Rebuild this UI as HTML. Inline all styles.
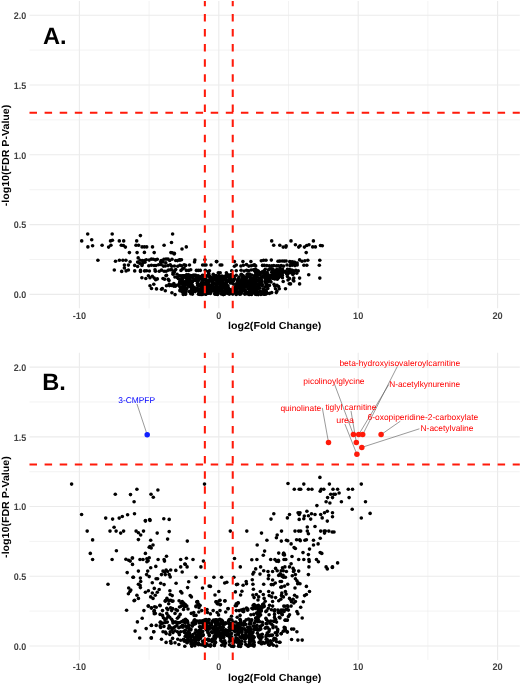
<!DOCTYPE html>
<html><head><meta charset="utf-8"><style>
html,body{margin:0;padding:0;background:#fff;}
svg{display:block;text-rendering:geometricPrecision;}
.tk{font-family:"Liberation Sans",Arial,sans-serif;font-size:9.6px;font-weight:bold;fill:#424242;}
.ti{font-family:"Liberation Sans",Arial,sans-serif;font-size:10.2px;font-weight:bold;fill:#000;}
.lt{font-family:"Liberation Sans",Arial,sans-serif;font-size:23.6px;font-weight:bold;fill:#000;}
.an{font-family:"Liberation Sans",Arial,sans-serif;font-size:8.45px;fill:#ff0000;}
.ab{font-family:"Liberation Sans",Arial,sans-serif;font-size:8.45px;fill:#0000ff;}
</style></head><body>
<svg width="521" height="685" viewBox="0 0 521 685">
<line x1="149.10" y1="1.0" x2="149.10" y2="308.3" stroke="#ebebeb" stroke-width="0.6"/>
<line x1="288.50" y1="1.0" x2="288.50" y2="308.3" stroke="#ebebeb" stroke-width="0.6"/>
<line x1="427.90" y1="1.0" x2="427.90" y2="308.3" stroke="#ebebeb" stroke-width="0.6"/>
<line x1="29.5" y1="259.50" x2="519.8" y2="259.50" stroke="#ebebeb" stroke-width="0.6"/>
<line x1="29.5" y1="189.70" x2="519.8" y2="189.70" stroke="#ebebeb" stroke-width="0.6"/>
<line x1="29.5" y1="119.90" x2="519.8" y2="119.90" stroke="#ebebeb" stroke-width="0.6"/>
<line x1="29.5" y1="50.10" x2="519.8" y2="50.10" stroke="#ebebeb" stroke-width="0.6"/>
<line x1="79.40" y1="1.0" x2="79.40" y2="308.3" stroke="#ebebeb" stroke-width="1.1"/>
<line x1="218.80" y1="1.0" x2="218.80" y2="308.3" stroke="#ebebeb" stroke-width="1.1"/>
<line x1="358.20" y1="1.0" x2="358.20" y2="308.3" stroke="#ebebeb" stroke-width="1.1"/>
<line x1="497.60" y1="1.0" x2="497.60" y2="308.3" stroke="#ebebeb" stroke-width="1.1"/>
<line x1="29.5" y1="294.40" x2="519.8" y2="294.40" stroke="#ebebeb" stroke-width="1.1"/>
<line x1="29.5" y1="224.60" x2="519.8" y2="224.60" stroke="#ebebeb" stroke-width="1.1"/>
<line x1="29.5" y1="154.80" x2="519.8" y2="154.80" stroke="#ebebeb" stroke-width="1.1"/>
<line x1="29.5" y1="85.00" x2="519.8" y2="85.00" stroke="#ebebeb" stroke-width="1.1"/>
<line x1="29.5" y1="15.20" x2="519.8" y2="15.20" stroke="#ebebeb" stroke-width="1.1"/>
<text x="26.2" y="298.10" text-anchor="end" textLength="12.5" lengthAdjust="spacingAndGlyphs" class="tk">0.0</text>
<text x="26.2" y="228.30" text-anchor="end" textLength="12.5" lengthAdjust="spacingAndGlyphs" class="tk">0.5</text>
<text x="26.2" y="158.50" text-anchor="end" textLength="12.5" lengthAdjust="spacingAndGlyphs" class="tk">1.0</text>
<text x="26.2" y="88.70" text-anchor="end" textLength="12.5" lengthAdjust="spacingAndGlyphs" class="tk">1.5</text>
<text x="26.2" y="18.90" text-anchor="end" textLength="12.5" lengthAdjust="spacingAndGlyphs" class="tk">2.0</text>
<text x="79.40" y="318.70" text-anchor="middle" textLength="13.2" lengthAdjust="spacingAndGlyphs" class="tk">-10</text>
<text x="218.80" y="318.70" text-anchor="middle" textLength="5.1" lengthAdjust="spacingAndGlyphs" class="tk">0</text>
<text x="358.20" y="318.70" text-anchor="middle" textLength="10.25" lengthAdjust="spacingAndGlyphs" class="tk">10</text>
<text x="497.60" y="318.70" text-anchor="middle" textLength="10.25" lengthAdjust="spacingAndGlyphs" class="tk">20</text>
<text x="228.0" y="329.1" textLength="93.4" lengthAdjust="spacingAndGlyphs" class="ti">log2(Fold Change)</text>
<text transform="translate(9.45 206.30) rotate(-90)" textLength="101.6" lengthAdjust="spacingAndGlyphs" class="ti">-log10(FDR P-Value)</text>

<g fill="#000"><circle cx="87.7" cy="234.0" r="1.8"/><circle cx="81.7" cy="240.9" r="1.8"/><circle cx="91.7" cy="239.7" r="1.8"/><circle cx="87.9" cy="246.9" r="1.8"/><circle cx="92.6" cy="245.7" r="1.8"/><circle cx="102.1" cy="245.2" r="1.8"/><circle cx="112.2" cy="234.0" r="1.8"/><circle cx="110.5" cy="240.9" r="1.8"/><circle cx="112.4" cy="240.2" r="1.8"/><circle cx="110.9" cy="245.2" r="1.8"/><circle cx="108.6" cy="247.1" r="1.8"/><circle cx="119.3" cy="240.9" r="1.8"/><circle cx="123.7" cy="240.9" r="1.8"/><circle cx="121.3" cy="245.2" r="1.8"/><circle cx="123.4" cy="245.5" r="1.8"/><circle cx="125.4" cy="247.1" r="1.8"/><circle cx="129.4" cy="252.6" r="1.8"/><circle cx="140.4" cy="235.6" r="1.8"/><circle cx="136.7" cy="240.9" r="1.8"/><circle cx="136.0" cy="245.2" r="1.8"/><circle cx="138.6" cy="245.2" r="1.8"/><circle cx="142.1" cy="246.9" r="1.8"/><circle cx="144.4" cy="246.9" r="1.8"/><circle cx="146.7" cy="246.9" r="1.8"/><circle cx="152.5" cy="246.9" r="1.8"/><circle cx="137.1" cy="252.6" r="1.8"/><circle cx="144.4" cy="252.4" r="1.8"/><circle cx="154.2" cy="252.6" r="1.8"/><circle cx="172.6" cy="234.0" r="1.8"/><circle cx="171.5" cy="242.5" r="1.8"/><circle cx="164.1" cy="245.2" r="1.8"/><circle cx="170.9" cy="252.6" r="1.8"/><circle cx="174.3" cy="253.2" r="1.8"/><circle cx="182.0" cy="249.0" r="1.8"/><circle cx="186.3" cy="246.9" r="1.8"/><circle cx="271.7" cy="240.9" r="1.8"/><circle cx="273.7" cy="245.2" r="1.8"/><circle cx="279.8" cy="245.2" r="1.8"/><circle cx="283.2" cy="247.1" r="1.8"/><circle cx="286.1" cy="245.7" r="1.8"/><circle cx="285.9" cy="247.1" r="1.8"/><circle cx="291.0" cy="240.9" r="1.8"/><circle cx="295.4" cy="244.8" r="1.8"/><circle cx="298.7" cy="247.1" r="1.8"/><circle cx="300.1" cy="245.7" r="1.8"/><circle cx="304.4" cy="247.1" r="1.8"/><circle cx="306.7" cy="245.5" r="1.8"/><circle cx="309.0" cy="244.8" r="1.8"/><circle cx="313.4" cy="240.9" r="1.8"/><circle cx="312.7" cy="246.9" r="1.8"/><circle cx="315.4" cy="246.9" r="1.8"/><circle cx="320.5" cy="245.5" r="1.8"/><circle cx="322.3" cy="245.7" r="1.8"/><circle cx="306.2" cy="252.6" r="1.8"/><circle cx="172.2" cy="252.8" r="1.8"/><circle cx="174.2" cy="253.9" r="1.8"/><circle cx="97.9" cy="260.2" r="1.8"/><circle cx="115.5" cy="261.3" r="1.8"/><circle cx="119.4" cy="260.2" r="1.8"/><circle cx="122.9" cy="260.2" r="1.8"/><circle cx="125.9" cy="260.2" r="1.8"/><circle cx="130.1" cy="261.7" r="1.8"/><circle cx="124.4" cy="265.1" r="1.8"/><circle cx="128.4" cy="265.1" r="1.8"/><circle cx="124.4" cy="267.9" r="1.8"/><circle cx="114.3" cy="270.0" r="1.8"/><circle cx="121.7" cy="271.4" r="1.8"/><circle cx="126.1" cy="270.9" r="1.8"/><circle cx="128.4" cy="270.0" r="1.8"/><circle cx="134.7" cy="270.9" r="1.8"/><circle cx="138.2" cy="257.9" r="1.8"/><circle cx="134.7" cy="265.4" r="1.8"/><circle cx="137.6" cy="262.1" r="1.8"/><circle cx="137.6" cy="266.5" r="1.8"/><circle cx="140.5" cy="271.4" r="1.8"/><circle cx="140.1" cy="260.2" r="1.8"/><circle cx="142.4" cy="260.6" r="1.8"/><circle cx="144.6" cy="260.6" r="1.8"/><circle cx="146.3" cy="259.7" r="1.8"/><circle cx="149.2" cy="260.1" r="1.8"/><circle cx="151.4" cy="259.1" r="1.8"/><circle cx="153.3" cy="259.3" r="1.8"/><circle cx="155.5" cy="259.9" r="1.8"/><circle cx="157.3" cy="259.3" r="1.8"/><circle cx="161.3" cy="260.5" r="1.8"/><circle cx="163.9" cy="259.2" r="1.8"/><circle cx="166.0" cy="259.1" r="1.8"/><circle cx="168.0" cy="259.1" r="1.8"/><circle cx="169.7" cy="260.5" r="1.8"/><circle cx="172.0" cy="259.3" r="1.8"/><circle cx="175.7" cy="260.5" r="1.8"/><circle cx="177.5" cy="260.6" r="1.8"/><circle cx="180.0" cy="260.1" r="1.8"/><circle cx="139.8" cy="263.5" r="1.8"/><circle cx="142.5" cy="263.5" r="1.8"/><circle cx="144.9" cy="262.3" r="1.8"/><circle cx="160.6" cy="262.1" r="1.8"/><circle cx="163.1" cy="261.9" r="1.8"/><circle cx="165.8" cy="262.9" r="1.8"/><circle cx="142.0" cy="265.5" r="1.8"/><circle cx="148.8" cy="265.8" r="1.8"/><circle cx="151.4" cy="265.2" r="1.8"/><circle cx="154.1" cy="265.5" r="1.8"/><circle cx="156.0" cy="265.5" r="1.8"/><circle cx="158.6" cy="264.7" r="1.8"/><circle cx="161.1" cy="264.6" r="1.8"/><circle cx="163.4" cy="266.1" r="1.8"/><circle cx="165.3" cy="266.0" r="1.8"/><circle cx="168.1" cy="265.6" r="1.8"/><circle cx="170.3" cy="264.7" r="1.8"/><circle cx="171.7" cy="266.3" r="1.8"/><circle cx="174.4" cy="266.0" r="1.8"/><circle cx="177.7" cy="266.3" r="1.8"/><circle cx="179.9" cy="265.2" r="1.8"/><circle cx="140.5" cy="270.4" r="1.8"/><circle cx="144.6" cy="270.9" r="1.8"/><circle cx="146.6" cy="270.8" r="1.8"/><circle cx="149.4" cy="271.0" r="1.8"/><circle cx="155.0" cy="269.7" r="1.8"/><circle cx="155.4" cy="271.2" r="1.8"/><circle cx="159.2" cy="271.2" r="1.8"/><circle cx="161.5" cy="270.1" r="1.8"/><circle cx="164.1" cy="271.2" r="1.8"/><circle cx="166.1" cy="271.2" r="1.8"/><circle cx="168.5" cy="270.1" r="1.8"/><circle cx="170.6" cy="269.8" r="1.8"/><circle cx="171.9" cy="269.8" r="1.8"/><circle cx="174.3" cy="271.3" r="1.8"/><circle cx="175.7" cy="269.6" r="1.8"/><circle cx="141.9" cy="277.8" r="1.8"/><circle cx="145.8" cy="278.5" r="1.8"/><circle cx="148.4" cy="275.8" r="1.8"/><circle cx="150.0" cy="277.8" r="1.8"/><circle cx="152.3" cy="276.2" r="1.8"/><circle cx="154.2" cy="278.1" r="1.8"/><circle cx="155.7" cy="279.7" r="1.8"/><circle cx="157.3" cy="278.9" r="1.8"/><circle cx="163.0" cy="278.5" r="1.8"/><circle cx="164.6" cy="279.3" r="1.8"/><circle cx="168.3" cy="279.4" r="1.8"/><circle cx="174.9" cy="277.0" r="1.8"/><circle cx="169.0" cy="280.6" r="1.8"/><circle cx="177.3" cy="277.4" r="1.8"/><circle cx="173.1" cy="274.2" r="1.8"/><circle cx="166.0" cy="275.8" r="1.8"/><circle cx="174.2" cy="272.3" r="1.8"/><circle cx="177.1" cy="274.2" r="1.8"/><circle cx="180.0" cy="280.0" r="1.8"/><circle cx="178.3" cy="278.6" r="1.8"/><circle cx="166.5" cy="275.3" r="1.8"/><circle cx="173.0" cy="272.8" r="1.8"/><circle cx="179.3" cy="275.7" r="1.8"/><circle cx="150.0" cy="285.8" r="1.8"/><circle cx="153.8" cy="284.3" r="1.8"/><circle cx="151.5" cy="288.5" r="1.8"/><circle cx="156.5" cy="288.9" r="1.8"/><circle cx="161.5" cy="289.3" r="1.8"/><circle cx="162.3" cy="288.5" r="1.8"/><circle cx="165.3" cy="290.8" r="1.8"/><circle cx="166.5" cy="285.8" r="1.8"/><circle cx="169.2" cy="284.3" r="1.8"/><circle cx="171.5" cy="285.4" r="1.8"/><circle cx="173.8" cy="283.5" r="1.8"/><circle cx="175.3" cy="286.2" r="1.8"/><circle cx="171.9" cy="292.7" r="1.8"/><circle cx="169.4" cy="285.6" r="1.8"/><circle cx="171.3" cy="285.0" r="1.8"/><circle cx="173.7" cy="286.1" r="1.8"/><circle cx="176.0" cy="285.4" r="1.8"/><circle cx="179.8" cy="282.0" r="1.8"/><circle cx="175.1" cy="294.6" r="1.8"/><circle cx="178.3" cy="285.0" r="1.8"/><circle cx="179.4" cy="283.4" r="1.8"/><circle cx="179.5" cy="259.7" r="1.8"/><circle cx="181.5" cy="259.7" r="1.8"/><circle cx="194.9" cy="260.1" r="1.8"/><circle cx="194.5" cy="262.0" r="1.8"/><circle cx="204.9" cy="259.7" r="1.8"/><circle cx="216.4" cy="261.6" r="1.8"/><circle cx="181.5" cy="265.8" r="1.8"/><circle cx="184.1" cy="264.7" r="1.8"/><circle cx="185.7" cy="265.4" r="1.8"/><circle cx="189.5" cy="265.0" r="1.8"/><circle cx="202.6" cy="265.0" r="1.8"/><circle cx="204.5" cy="265.0" r="1.8"/><circle cx="206.0" cy="265.0" r="1.8"/><circle cx="211.0" cy="265.0" r="1.8"/><circle cx="181.0" cy="270.4" r="1.8"/><circle cx="182.6" cy="268.9" r="1.8"/><circle cx="184.1" cy="268.1" r="1.8"/><circle cx="186.4" cy="270.4" r="1.8"/><circle cx="188.7" cy="270.4" r="1.8"/><circle cx="190.7" cy="269.7" r="1.8"/><circle cx="196.4" cy="270.4" r="1.8"/><circle cx="198.3" cy="270.4" r="1.8"/><circle cx="200.3" cy="270.4" r="1.8"/><circle cx="205.3" cy="270.4" r="1.8"/><circle cx="208.0" cy="271.6" r="1.8"/><circle cx="209.5" cy="270.8" r="1.8"/><circle cx="208.7" cy="273.5" r="1.8"/><circle cx="213.3" cy="274.3" r="1.8"/><circle cx="215.1" cy="293.5" r="1.8"/><circle cx="213.8" cy="275.7" r="1.8"/><circle cx="202.1" cy="282.7" r="1.8"/><circle cx="199.7" cy="276.7" r="1.8"/><circle cx="186.5" cy="283.2" r="1.8"/><circle cx="187.6" cy="283.4" r="1.8"/><circle cx="180.0" cy="275.8" r="1.8"/><circle cx="206.7" cy="282.7" r="1.8"/><circle cx="199.0" cy="289.1" r="1.8"/><circle cx="193.0" cy="275.2" r="1.8"/><circle cx="209.5" cy="286.1" r="1.8"/><circle cx="204.7" cy="286.8" r="1.8"/><circle cx="216.9" cy="281.5" r="1.8"/><circle cx="208.6" cy="281.6" r="1.8"/><circle cx="201.3" cy="287.6" r="1.8"/><circle cx="191.3" cy="275.8" r="1.8"/><circle cx="197.5" cy="288.8" r="1.8"/><circle cx="202.0" cy="283.2" r="1.8"/><circle cx="204.1" cy="277.7" r="1.8"/><circle cx="186.0" cy="280.7" r="1.8"/><circle cx="210.8" cy="278.0" r="1.8"/><circle cx="183.5" cy="276.0" r="1.8"/><circle cx="180.5" cy="279.7" r="1.8"/><circle cx="201.3" cy="290.9" r="1.8"/><circle cx="191.9" cy="281.6" r="1.8"/><circle cx="190.3" cy="280.3" r="1.8"/><circle cx="209.3" cy="285.3" r="1.8"/><circle cx="189.1" cy="276.2" r="1.8"/><circle cx="209.6" cy="288.6" r="1.8"/><circle cx="211.3" cy="278.9" r="1.8"/><circle cx="200.3" cy="292.9" r="1.8"/><circle cx="202.1" cy="293.5" r="1.8"/><circle cx="185.5" cy="294.1" r="1.8"/><circle cx="181.2" cy="282.6" r="1.8"/><circle cx="179.9" cy="290.7" r="1.8"/><circle cx="205.8" cy="294.1" r="1.8"/><circle cx="210.4" cy="293.5" r="1.8"/><circle cx="200.0" cy="294.4" r="1.8"/><circle cx="208.2" cy="281.1" r="1.8"/><circle cx="217.0" cy="281.8" r="1.8"/><circle cx="186.5" cy="275.6" r="1.8"/><circle cx="197.2" cy="278.1" r="1.8"/><circle cx="215.4" cy="293.6" r="1.8"/><circle cx="187.4" cy="276.1" r="1.8"/><circle cx="199.6" cy="277.5" r="1.8"/><circle cx="200.2" cy="290.7" r="1.8"/><circle cx="188.9" cy="282.7" r="1.8"/><circle cx="214.1" cy="283.2" r="1.8"/><circle cx="192.4" cy="292.4" r="1.8"/><circle cx="210.7" cy="292.4" r="1.8"/><circle cx="205.8" cy="282.5" r="1.8"/><circle cx="206.0" cy="291.1" r="1.8"/><circle cx="203.9" cy="278.9" r="1.8"/><circle cx="190.5" cy="282.4" r="1.8"/><circle cx="209.1" cy="285.5" r="1.8"/><circle cx="200.4" cy="291.0" r="1.8"/><circle cx="183.2" cy="287.0" r="1.8"/><circle cx="192.0" cy="285.5" r="1.8"/><circle cx="211.6" cy="279.1" r="1.8"/><circle cx="216.1" cy="275.6" r="1.8"/><circle cx="200.9" cy="285.2" r="1.8"/><circle cx="188.2" cy="285.6" r="1.8"/><circle cx="197.4" cy="283.3" r="1.8"/><circle cx="193.7" cy="290.2" r="1.8"/><circle cx="184.5" cy="291.9" r="1.8"/><circle cx="186.9" cy="288.0" r="1.8"/><circle cx="185.8" cy="283.3" r="1.8"/><circle cx="195.5" cy="275.7" r="1.8"/><circle cx="206.3" cy="283.9" r="1.8"/><circle cx="205.9" cy="285.1" r="1.8"/><circle cx="200.7" cy="284.8" r="1.8"/><circle cx="190.6" cy="292.5" r="1.8"/><circle cx="182.4" cy="292.1" r="1.8"/><circle cx="212.7" cy="284.3" r="1.8"/><circle cx="209.3" cy="287.9" r="1.8"/><circle cx="202.6" cy="280.0" r="1.8"/><circle cx="191.5" cy="281.2" r="1.8"/><circle cx="190.8" cy="293.8" r="1.8"/><circle cx="192.3" cy="282.0" r="1.8"/><circle cx="195.4" cy="290.8" r="1.8"/><circle cx="197.6" cy="285.4" r="1.8"/><circle cx="189.0" cy="279.7" r="1.8"/><circle cx="182.5" cy="278.5" r="1.8"/><circle cx="189.3" cy="291.6" r="1.8"/><circle cx="198.6" cy="276.3" r="1.8"/><circle cx="197.0" cy="276.5" r="1.8"/><circle cx="201.1" cy="283.1" r="1.8"/><circle cx="212.5" cy="279.3" r="1.8"/><circle cx="212.2" cy="279.1" r="1.8"/><circle cx="217.3" cy="287.1" r="1.8"/><circle cx="180.7" cy="290.6" r="1.8"/><circle cx="189.8" cy="281.5" r="1.8"/><circle cx="184.7" cy="291.3" r="1.8"/><circle cx="182.5" cy="289.2" r="1.8"/><circle cx="194.4" cy="288.0" r="1.8"/><circle cx="190.4" cy="275.6" r="1.8"/><circle cx="214.7" cy="287.5" r="1.8"/><circle cx="185.6" cy="294.1" r="1.8"/><circle cx="214.6" cy="277.8" r="1.8"/><circle cx="179.7" cy="286.6" r="1.8"/><circle cx="184.4" cy="289.1" r="1.8"/><circle cx="197.3" cy="288.6" r="1.8"/><circle cx="201.2" cy="289.9" r="1.8"/><circle cx="211.0" cy="286.4" r="1.8"/><circle cx="202.1" cy="280.7" r="1.8"/><circle cx="184.2" cy="275.9" r="1.8"/><circle cx="212.4" cy="278.2" r="1.8"/><circle cx="195.6" cy="280.5" r="1.8"/><circle cx="203.2" cy="285.0" r="1.8"/><circle cx="212.5" cy="283.0" r="1.8"/><circle cx="193.1" cy="287.4" r="1.8"/><circle cx="208.0" cy="293.1" r="1.8"/><circle cx="191.2" cy="292.3" r="1.8"/><circle cx="217.3" cy="294.2" r="1.8"/><circle cx="184.0" cy="281.8" r="1.8"/><circle cx="209.2" cy="291.1" r="1.8"/><circle cx="180.5" cy="282.1" r="1.8"/><circle cx="207.2" cy="289.6" r="1.8"/><circle cx="199.9" cy="278.3" r="1.8"/><circle cx="194.9" cy="275.2" r="1.8"/><circle cx="191.3" cy="282.8" r="1.8"/><circle cx="211.1" cy="286.1" r="1.8"/><circle cx="195.2" cy="279.1" r="1.8"/><circle cx="191.3" cy="287.8" r="1.8"/><circle cx="196.4" cy="277.6" r="1.8"/><circle cx="211.0" cy="285.9" r="1.8"/><circle cx="216.7" cy="285.0" r="1.8"/><circle cx="203.3" cy="282.8" r="1.8"/><circle cx="202.7" cy="292.9" r="1.8"/><circle cx="217.3" cy="287.6" r="1.8"/><circle cx="195.8" cy="275.3" r="1.8"/><circle cx="211.8" cy="282.1" r="1.8"/><circle cx="193.9" cy="275.2" r="1.8"/><circle cx="180.3" cy="282.0" r="1.8"/><circle cx="217.0" cy="289.3" r="1.8"/><circle cx="206.6" cy="287.8" r="1.8"/><circle cx="189.6" cy="277.5" r="1.8"/><circle cx="202.5" cy="275.3" r="1.8"/><circle cx="201.9" cy="284.6" r="1.8"/><circle cx="200.2" cy="276.5" r="1.8"/><circle cx="181.6" cy="283.7" r="1.8"/><circle cx="184.7" cy="287.2" r="1.8"/><circle cx="191.1" cy="286.8" r="1.8"/><circle cx="208.3" cy="286.5" r="1.8"/><circle cx="199.7" cy="278.1" r="1.8"/><circle cx="192.5" cy="294.1" r="1.8"/><circle cx="189.5" cy="279.9" r="1.8"/><circle cx="198.2" cy="285.2" r="1.8"/><circle cx="209.8" cy="280.1" r="1.8"/><circle cx="209.8" cy="285.7" r="1.8"/><circle cx="214.1" cy="277.2" r="1.8"/><circle cx="205.9" cy="293.5" r="1.8"/><circle cx="205.0" cy="276.3" r="1.8"/><circle cx="214.9" cy="294.0" r="1.8"/><circle cx="183.3" cy="291.0" r="1.8"/><circle cx="182.1" cy="275.7" r="1.8"/><circle cx="210.0" cy="288.8" r="1.8"/><circle cx="216.3" cy="287.0" r="1.8"/><circle cx="199.0" cy="279.6" r="1.8"/><circle cx="201.3" cy="294.4" r="1.8"/><circle cx="204.2" cy="292.0" r="1.8"/><circle cx="186.7" cy="289.1" r="1.8"/><circle cx="207.5" cy="275.5" r="1.8"/><circle cx="211.0" cy="277.6" r="1.8"/><circle cx="187.5" cy="275.3" r="1.8"/><circle cx="204.8" cy="276.9" r="1.8"/><circle cx="210.6" cy="289.6" r="1.8"/><circle cx="201.2" cy="285.8" r="1.8"/><circle cx="210.1" cy="287.1" r="1.8"/><circle cx="184.4" cy="290.4" r="1.8"/><circle cx="192.8" cy="286.0" r="1.8"/><circle cx="199.0" cy="292.6" r="1.8"/><circle cx="195.2" cy="291.6" r="1.8"/><circle cx="182.2" cy="280.7" r="1.8"/><circle cx="205.2" cy="286.6" r="1.8"/><circle cx="211.5" cy="278.3" r="1.8"/><circle cx="210.4" cy="290.4" r="1.8"/><circle cx="184.6" cy="276.9" r="1.8"/><circle cx="201.7" cy="294.1" r="1.8"/><circle cx="202.9" cy="282.8" r="1.8"/><circle cx="198.8" cy="290.7" r="1.8"/><circle cx="199.4" cy="285.1" r="1.8"/><circle cx="202.1" cy="293.2" r="1.8"/><circle cx="210.2" cy="291.3" r="1.8"/><circle cx="189.4" cy="286.4" r="1.8"/><circle cx="211.1" cy="288.8" r="1.8"/><circle cx="216.1" cy="292.9" r="1.8"/><circle cx="184.0" cy="284.5" r="1.8"/><circle cx="193.0" cy="278.2" r="1.8"/><circle cx="198.5" cy="294.3" r="1.8"/><circle cx="209.0" cy="276.0" r="1.8"/><circle cx="188.7" cy="281.6" r="1.8"/><circle cx="213.5" cy="283.5" r="1.8"/><circle cx="185.2" cy="285.3" r="1.8"/><circle cx="188.6" cy="274.8" r="1.8"/><circle cx="202.1" cy="294.4" r="1.8"/><circle cx="209.3" cy="289.2" r="1.8"/><circle cx="185.0" cy="285.6" r="1.8"/><circle cx="203.8" cy="289.6" r="1.8"/><circle cx="215.2" cy="279.5" r="1.8"/><circle cx="207.8" cy="283.6" r="1.8"/><circle cx="209.4" cy="281.0" r="1.8"/><circle cx="182.6" cy="282.8" r="1.8"/><circle cx="197.7" cy="290.3" r="1.8"/><circle cx="194.7" cy="287.7" r="1.8"/><circle cx="193.7" cy="289.1" r="1.8"/><circle cx="185.8" cy="292.1" r="1.8"/><circle cx="212.5" cy="290.0" r="1.8"/><circle cx="206.0" cy="276.2" r="1.8"/><circle cx="207.6" cy="289.9" r="1.8"/><circle cx="203.4" cy="293.9" r="1.8"/><circle cx="215.9" cy="287.1" r="1.8"/><circle cx="215.1" cy="277.0" r="1.8"/><circle cx="190.6" cy="284.9" r="1.8"/><circle cx="199.4" cy="293.6" r="1.8"/><circle cx="203.8" cy="286.8" r="1.8"/><circle cx="203.2" cy="293.5" r="1.8"/><circle cx="194.6" cy="289.2" r="1.8"/><circle cx="202.4" cy="282.3" r="1.8"/><circle cx="192.2" cy="277.2" r="1.8"/><circle cx="190.7" cy="275.7" r="1.8"/><circle cx="197.9" cy="281.2" r="1.8"/><circle cx="215.1" cy="290.1" r="1.8"/><circle cx="204.9" cy="291.4" r="1.8"/><circle cx="189.7" cy="276.4" r="1.8"/><circle cx="202.8" cy="278.7" r="1.8"/><circle cx="217.4" cy="282.8" r="1.8"/><circle cx="213.6" cy="279.1" r="1.8"/><circle cx="182.7" cy="286.9" r="1.8"/><circle cx="206.0" cy="279.3" r="1.8"/><circle cx="215.1" cy="294.0" r="1.8"/><circle cx="205.8" cy="294.2" r="1.8"/><circle cx="217.3" cy="277.1" r="1.8"/><circle cx="207.5" cy="289.4" r="1.8"/><circle cx="207.5" cy="281.0" r="1.8"/><circle cx="200.2" cy="286.1" r="1.8"/><circle cx="193.6" cy="280.5" r="1.8"/><circle cx="209.9" cy="276.4" r="1.8"/><circle cx="181.4" cy="276.4" r="1.8"/><circle cx="183.5" cy="283.0" r="1.8"/><circle cx="212.8" cy="281.3" r="1.8"/><circle cx="182.9" cy="287.8" r="1.8"/><circle cx="192.0" cy="285.8" r="1.8"/><circle cx="208.2" cy="283.4" r="1.8"/><circle cx="207.6" cy="286.8" r="1.8"/><circle cx="212.2" cy="289.7" r="1.8"/><circle cx="214.1" cy="289.4" r="1.8"/><circle cx="190.0" cy="284.4" r="1.8"/><circle cx="209.1" cy="290.2" r="1.8"/><circle cx="207.5" cy="291.4" r="1.8"/><circle cx="211.2" cy="285.1" r="1.8"/><circle cx="197.6" cy="289.0" r="1.8"/><circle cx="214.6" cy="291.5" r="1.8"/><circle cx="196.1" cy="278.7" r="1.8"/><circle cx="213.5" cy="287.5" r="1.8"/><circle cx="186.5" cy="274.8" r="1.8"/><circle cx="213.2" cy="285.9" r="1.8"/><circle cx="183.3" cy="294.4" r="1.8"/><circle cx="201.9" cy="289.6" r="1.8"/><circle cx="210.5" cy="279.3" r="1.8"/><circle cx="199.4" cy="277.5" r="1.8"/><circle cx="202.9" cy="283.0" r="1.8"/><circle cx="209.8" cy="276.4" r="1.8"/><circle cx="187.0" cy="282.0" r="1.8"/><circle cx="216.5" cy="291.8" r="1.8"/><circle cx="186.0" cy="291.1" r="1.8"/><circle cx="187.8" cy="278.9" r="1.8"/><circle cx="203.9" cy="280.1" r="1.8"/><circle cx="186.8" cy="275.8" r="1.8"/><circle cx="185.9" cy="278.0" r="1.8"/><circle cx="200.1" cy="278.4" r="1.8"/><circle cx="193.5" cy="289.2" r="1.8"/><circle cx="180.0" cy="282.5" r="1.8"/><circle cx="191.7" cy="284.0" r="1.8"/><circle cx="203.5" cy="275.6" r="1.8"/><circle cx="212.8" cy="279.6" r="1.8"/><circle cx="209.1" cy="276.7" r="1.8"/><circle cx="182.7" cy="278.0" r="1.8"/><circle cx="182.3" cy="279.1" r="1.8"/><circle cx="184.4" cy="275.8" r="1.8"/><circle cx="212.2" cy="284.9" r="1.8"/><circle cx="198.4" cy="284.5" r="1.8"/><circle cx="180.8" cy="287.7" r="1.8"/><circle cx="203.4" cy="291.5" r="1.8"/><circle cx="191.2" cy="286.0" r="1.8"/><circle cx="180.3" cy="289.5" r="1.8"/><circle cx="216.3" cy="285.3" r="1.8"/><circle cx="205.0" cy="291.2" r="1.8"/><circle cx="211.9" cy="290.9" r="1.8"/><circle cx="198.0" cy="275.8" r="1.8"/><circle cx="210.0" cy="291.4" r="1.8"/><circle cx="206.3" cy="280.5" r="1.8"/><circle cx="217.0" cy="286.8" r="1.8"/><circle cx="191.2" cy="290.2" r="1.8"/><circle cx="187.7" cy="279.0" r="1.8"/><circle cx="212.9" cy="282.2" r="1.8"/><circle cx="201.3" cy="288.2" r="1.8"/><circle cx="214.2" cy="278.5" r="1.8"/><circle cx="182.6" cy="284.6" r="1.8"/><circle cx="187.7" cy="282.7" r="1.8"/><circle cx="183.3" cy="275.9" r="1.8"/><circle cx="189.4" cy="282.0" r="1.8"/><circle cx="182.7" cy="290.6" r="1.8"/><circle cx="210.5" cy="277.6" r="1.8"/><circle cx="208.1" cy="293.2" r="1.8"/><circle cx="189.1" cy="277.4" r="1.8"/><circle cx="192.3" cy="291.7" r="1.8"/><circle cx="209.4" cy="277.2" r="1.8"/><circle cx="214.2" cy="289.2" r="1.8"/><circle cx="216.3" cy="294.0" r="1.8"/><circle cx="185.2" cy="289.0" r="1.8"/><circle cx="216.8" cy="261.6" r="1.8"/><circle cx="220.2" cy="265.0" r="1.8"/><circle cx="221.8" cy="265.0" r="1.8"/><circle cx="234.4" cy="261.6" r="1.8"/><circle cx="234.4" cy="266.2" r="1.8"/><circle cx="236.3" cy="265.0" r="1.8"/><circle cx="242.9" cy="261.6" r="1.8"/><circle cx="250.9" cy="261.6" r="1.8"/><circle cx="240.9" cy="266.0" r="1.8"/><circle cx="243.4" cy="265.3" r="1.8"/><circle cx="246.5" cy="264.6" r="1.8"/><circle cx="248.8" cy="266.1" r="1.8"/><circle cx="251.2" cy="265.8" r="1.8"/><circle cx="253.2" cy="265.2" r="1.8"/><circle cx="255.7" cy="265.9" r="1.8"/><circle cx="218.3" cy="272.7" r="1.8"/><circle cx="220.2" cy="272.7" r="1.8"/><circle cx="226.4" cy="272.7" r="1.8"/><circle cx="231.7" cy="270.8" r="1.8"/><circle cx="236.3" cy="270.8" r="1.8"/><circle cx="241.1" cy="270.3" r="1.8"/><circle cx="244.1" cy="271.0" r="1.8"/><circle cx="246.6" cy="270.3" r="1.8"/><circle cx="248.6" cy="270.8" r="1.8"/><circle cx="251.1" cy="270.0" r="1.8"/><circle cx="253.5" cy="269.8" r="1.8"/><circle cx="255.9" cy="271.3" r="1.8"/><circle cx="244.5" cy="291.2" r="1.8"/><circle cx="223.3" cy="294.6" r="1.8"/><circle cx="223.8" cy="287.7" r="1.8"/><circle cx="219.7" cy="289.5" r="1.8"/><circle cx="222.1" cy="288.4" r="1.8"/><circle cx="245.0" cy="289.7" r="1.8"/><circle cx="233.7" cy="291.8" r="1.8"/><circle cx="255.5" cy="275.9" r="1.8"/><circle cx="236.7" cy="293.7" r="1.8"/><circle cx="245.6" cy="282.9" r="1.8"/><circle cx="228.2" cy="293.6" r="1.8"/><circle cx="219.4" cy="289.5" r="1.8"/><circle cx="249.7" cy="276.8" r="1.8"/><circle cx="229.1" cy="279.9" r="1.8"/><circle cx="237.7" cy="281.2" r="1.8"/><circle cx="251.7" cy="293.0" r="1.8"/><circle cx="228.6" cy="292.4" r="1.8"/><circle cx="218.8" cy="275.5" r="1.8"/><circle cx="242.6" cy="290.4" r="1.8"/><circle cx="248.8" cy="294.4" r="1.8"/><circle cx="250.4" cy="279.1" r="1.8"/><circle cx="245.7" cy="293.0" r="1.8"/><circle cx="219.7" cy="283.9" r="1.8"/><circle cx="222.2" cy="276.5" r="1.8"/><circle cx="235.2" cy="287.6" r="1.8"/><circle cx="255.0" cy="276.3" r="1.8"/><circle cx="236.2" cy="294.5" r="1.8"/><circle cx="246.6" cy="284.7" r="1.8"/><circle cx="225.7" cy="286.8" r="1.8"/><circle cx="226.4" cy="287.1" r="1.8"/><circle cx="241.9" cy="281.8" r="1.8"/><circle cx="247.8" cy="282.0" r="1.8"/><circle cx="234.8" cy="291.0" r="1.8"/><circle cx="226.0" cy="277.4" r="1.8"/><circle cx="239.0" cy="282.7" r="1.8"/><circle cx="251.0" cy="278.8" r="1.8"/><circle cx="230.9" cy="274.7" r="1.8"/><circle cx="234.0" cy="280.1" r="1.8"/><circle cx="233.9" cy="289.6" r="1.8"/><circle cx="217.5" cy="294.4" r="1.8"/><circle cx="244.5" cy="290.6" r="1.8"/><circle cx="237.6" cy="285.7" r="1.8"/><circle cx="232.4" cy="281.9" r="1.8"/><circle cx="224.8" cy="279.9" r="1.8"/><circle cx="227.8" cy="280.6" r="1.8"/><circle cx="252.3" cy="290.3" r="1.8"/><circle cx="226.5" cy="285.0" r="1.8"/><circle cx="243.7" cy="282.3" r="1.8"/><circle cx="241.3" cy="292.6" r="1.8"/><circle cx="226.7" cy="281.6" r="1.8"/><circle cx="246.4" cy="280.2" r="1.8"/><circle cx="244.9" cy="281.9" r="1.8"/><circle cx="216.8" cy="283.3" r="1.8"/><circle cx="218.7" cy="290.1" r="1.8"/><circle cx="249.8" cy="284.7" r="1.8"/><circle cx="252.0" cy="278.0" r="1.8"/><circle cx="233.8" cy="277.2" r="1.8"/><circle cx="217.9" cy="290.9" r="1.8"/><circle cx="218.1" cy="293.2" r="1.8"/><circle cx="238.3" cy="288.3" r="1.8"/><circle cx="218.0" cy="292.6" r="1.8"/><circle cx="247.8" cy="275.7" r="1.8"/><circle cx="223.3" cy="276.5" r="1.8"/><circle cx="236.2" cy="275.2" r="1.8"/><circle cx="247.9" cy="284.0" r="1.8"/><circle cx="244.2" cy="278.9" r="1.8"/><circle cx="242.2" cy="283.1" r="1.8"/><circle cx="241.9" cy="282.2" r="1.8"/><circle cx="255.6" cy="291.4" r="1.8"/><circle cx="249.3" cy="280.7" r="1.8"/><circle cx="223.6" cy="276.7" r="1.8"/><circle cx="221.3" cy="293.9" r="1.8"/><circle cx="227.3" cy="291.9" r="1.8"/><circle cx="225.3" cy="286.6" r="1.8"/><circle cx="226.0" cy="280.0" r="1.8"/><circle cx="245.9" cy="286.3" r="1.8"/><circle cx="253.8" cy="278.5" r="1.8"/><circle cx="226.8" cy="274.8" r="1.8"/><circle cx="224.6" cy="294.2" r="1.8"/><circle cx="238.6" cy="283.5" r="1.8"/><circle cx="229.6" cy="289.5" r="1.8"/><circle cx="243.6" cy="276.8" r="1.8"/><circle cx="217.9" cy="277.2" r="1.8"/><circle cx="248.7" cy="289.0" r="1.8"/><circle cx="225.1" cy="278.4" r="1.8"/><circle cx="228.3" cy="287.8" r="1.8"/><circle cx="245.9" cy="278.5" r="1.8"/><circle cx="229.2" cy="278.5" r="1.8"/><circle cx="253.8" cy="285.1" r="1.8"/><circle cx="253.6" cy="278.6" r="1.8"/><circle cx="241.3" cy="285.5" r="1.8"/><circle cx="253.3" cy="281.2" r="1.8"/><circle cx="225.1" cy="290.8" r="1.8"/><circle cx="254.1" cy="284.2" r="1.8"/><circle cx="229.3" cy="275.3" r="1.8"/><circle cx="233.8" cy="293.0" r="1.8"/><circle cx="230.3" cy="283.0" r="1.8"/><circle cx="238.6" cy="278.5" r="1.8"/><circle cx="220.3" cy="284.5" r="1.8"/><circle cx="254.7" cy="291.9" r="1.8"/><circle cx="228.1" cy="290.0" r="1.8"/><circle cx="249.3" cy="285.8" r="1.8"/><circle cx="230.4" cy="277.6" r="1.8"/><circle cx="244.1" cy="288.0" r="1.8"/><circle cx="224.5" cy="276.5" r="1.8"/><circle cx="220.6" cy="291.0" r="1.8"/><circle cx="251.4" cy="284.4" r="1.8"/><circle cx="240.4" cy="288.4" r="1.8"/><circle cx="222.3" cy="284.5" r="1.8"/><circle cx="233.9" cy="291.8" r="1.8"/><circle cx="222.6" cy="291.4" r="1.8"/><circle cx="221.7" cy="286.4" r="1.8"/><circle cx="251.7" cy="275.1" r="1.8"/><circle cx="236.4" cy="283.7" r="1.8"/><circle cx="254.4" cy="283.8" r="1.8"/><circle cx="252.4" cy="288.9" r="1.8"/><circle cx="249.7" cy="280.9" r="1.8"/><circle cx="219.8" cy="287.0" r="1.8"/><circle cx="220.5" cy="286.7" r="1.8"/><circle cx="223.2" cy="286.3" r="1.8"/><circle cx="246.7" cy="293.8" r="1.8"/><circle cx="224.0" cy="277.2" r="1.8"/><circle cx="232.8" cy="294.1" r="1.8"/><circle cx="226.2" cy="283.5" r="1.8"/><circle cx="231.3" cy="274.8" r="1.8"/><circle cx="237.6" cy="280.0" r="1.8"/><circle cx="234.8" cy="289.1" r="1.8"/><circle cx="242.7" cy="278.7" r="1.8"/><circle cx="241.9" cy="284.8" r="1.8"/><circle cx="227.2" cy="287.7" r="1.8"/><circle cx="238.3" cy="284.1" r="1.8"/><circle cx="237.2" cy="286.5" r="1.8"/><circle cx="245.4" cy="291.1" r="1.8"/><circle cx="247.1" cy="292.6" r="1.8"/><circle cx="239.0" cy="277.1" r="1.8"/><circle cx="230.8" cy="291.7" r="1.8"/><circle cx="246.9" cy="286.6" r="1.8"/><circle cx="221.1" cy="276.9" r="1.8"/><circle cx="242.2" cy="282.4" r="1.8"/><circle cx="223.5" cy="294.0" r="1.8"/><circle cx="225.3" cy="293.0" r="1.8"/><circle cx="240.9" cy="293.7" r="1.8"/><circle cx="247.0" cy="277.7" r="1.8"/><circle cx="225.1" cy="291.7" r="1.8"/><circle cx="233.4" cy="284.1" r="1.8"/><circle cx="245.9" cy="286.2" r="1.8"/><circle cx="244.8" cy="284.5" r="1.8"/><circle cx="227.0" cy="288.7" r="1.8"/><circle cx="221.1" cy="288.8" r="1.8"/><circle cx="247.8" cy="276.5" r="1.8"/><circle cx="216.1" cy="292.8" r="1.8"/><circle cx="223.5" cy="284.7" r="1.8"/><circle cx="227.6" cy="276.4" r="1.8"/><circle cx="226.3" cy="275.0" r="1.8"/><circle cx="249.9" cy="289.7" r="1.8"/><circle cx="247.3" cy="276.6" r="1.8"/><circle cx="228.9" cy="275.6" r="1.8"/><circle cx="250.0" cy="294.1" r="1.8"/><circle cx="253.9" cy="291.3" r="1.8"/><circle cx="240.5" cy="284.0" r="1.8"/><circle cx="240.8" cy="293.8" r="1.8"/><circle cx="255.2" cy="282.3" r="1.8"/><circle cx="236.9" cy="292.1" r="1.8"/><circle cx="227.3" cy="289.0" r="1.8"/><circle cx="240.0" cy="282.7" r="1.8"/><circle cx="231.6" cy="276.8" r="1.8"/><circle cx="221.9" cy="279.8" r="1.8"/><circle cx="255.5" cy="290.8" r="1.8"/><circle cx="216.3" cy="289.5" r="1.8"/><circle cx="221.7" cy="285.7" r="1.8"/><circle cx="252.8" cy="292.6" r="1.8"/><circle cx="251.5" cy="294.4" r="1.8"/><circle cx="241.3" cy="274.2" r="1.8"/><circle cx="226.2" cy="287.6" r="1.8"/><circle cx="239.8" cy="292.7" r="1.8"/><circle cx="222.8" cy="292.2" r="1.8"/><circle cx="239.1" cy="286.0" r="1.8"/><circle cx="220.8" cy="281.0" r="1.8"/><circle cx="236.6" cy="289.4" r="1.8"/><circle cx="243.2" cy="287.0" r="1.8"/><circle cx="244.4" cy="280.9" r="1.8"/><circle cx="229.4" cy="294.1" r="1.8"/><circle cx="242.8" cy="285.3" r="1.8"/><circle cx="254.6" cy="291.8" r="1.8"/><circle cx="244.8" cy="294.1" r="1.8"/><circle cx="231.4" cy="293.0" r="1.8"/><circle cx="239.1" cy="282.5" r="1.8"/><circle cx="251.5" cy="294.0" r="1.8"/><circle cx="231.1" cy="293.5" r="1.8"/><circle cx="221.2" cy="283.2" r="1.8"/><circle cx="255.7" cy="286.8" r="1.8"/><circle cx="222.3" cy="286.9" r="1.8"/><circle cx="217.0" cy="288.7" r="1.8"/><circle cx="239.5" cy="287.1" r="1.8"/><circle cx="243.0" cy="275.5" r="1.8"/><circle cx="251.3" cy="289.6" r="1.8"/><circle cx="251.7" cy="278.4" r="1.8"/><circle cx="225.1" cy="288.7" r="1.8"/><circle cx="252.9" cy="285.5" r="1.8"/><circle cx="225.7" cy="282.8" r="1.8"/><circle cx="225.6" cy="283.7" r="1.8"/><circle cx="254.4" cy="287.8" r="1.8"/><circle cx="224.1" cy="292.8" r="1.8"/><circle cx="251.1" cy="282.0" r="1.8"/><circle cx="216.0" cy="287.6" r="1.8"/><circle cx="229.0" cy="276.2" r="1.8"/><circle cx="252.4" cy="281.9" r="1.8"/><circle cx="222.6" cy="279.5" r="1.8"/><circle cx="255.8" cy="280.9" r="1.8"/><circle cx="234.9" cy="278.8" r="1.8"/><circle cx="219.3" cy="276.3" r="1.8"/><circle cx="218.4" cy="283.1" r="1.8"/><circle cx="233.2" cy="288.3" r="1.8"/><circle cx="249.3" cy="291.9" r="1.8"/><circle cx="221.6" cy="285.3" r="1.8"/><circle cx="221.7" cy="279.8" r="1.8"/><circle cx="231.5" cy="281.8" r="1.8"/><circle cx="249.7" cy="282.5" r="1.8"/><circle cx="222.4" cy="286.2" r="1.8"/><circle cx="226.4" cy="292.6" r="1.8"/><circle cx="220.3" cy="276.8" r="1.8"/><circle cx="218.6" cy="279.8" r="1.8"/><circle cx="247.3" cy="275.2" r="1.8"/><circle cx="240.3" cy="292.4" r="1.8"/><circle cx="225.3" cy="289.2" r="1.8"/><circle cx="244.9" cy="293.8" r="1.8"/><circle cx="250.1" cy="286.8" r="1.8"/><circle cx="233.0" cy="281.3" r="1.8"/><circle cx="241.8" cy="279.5" r="1.8"/><circle cx="222.3" cy="283.6" r="1.8"/><circle cx="221.8" cy="286.9" r="1.8"/><circle cx="254.1" cy="281.4" r="1.8"/><circle cx="217.3" cy="277.0" r="1.8"/><circle cx="228.5" cy="292.2" r="1.8"/><circle cx="253.8" cy="286.3" r="1.8"/><circle cx="231.9" cy="275.5" r="1.8"/><circle cx="249.5" cy="274.0" r="1.8"/><circle cx="226.4" cy="289.0" r="1.8"/><circle cx="243.7" cy="277.4" r="1.8"/><circle cx="255.6" cy="287.3" r="1.8"/><circle cx="243.5" cy="278.4" r="1.8"/><circle cx="247.9" cy="274.1" r="1.8"/><circle cx="247.5" cy="286.0" r="1.8"/><circle cx="238.7" cy="281.3" r="1.8"/><circle cx="247.3" cy="274.2" r="1.8"/><circle cx="241.1" cy="274.9" r="1.8"/><circle cx="216.3" cy="291.5" r="1.8"/><circle cx="228.6" cy="281.2" r="1.8"/><circle cx="249.2" cy="281.3" r="1.8"/><circle cx="249.6" cy="294.4" r="1.8"/><circle cx="220.3" cy="278.5" r="1.8"/><circle cx="216.4" cy="279.1" r="1.8"/><circle cx="239.7" cy="294.2" r="1.8"/><circle cx="247.8" cy="288.7" r="1.8"/><circle cx="221.9" cy="293.1" r="1.8"/><circle cx="233.3" cy="289.9" r="1.8"/><circle cx="223.8" cy="294.1" r="1.8"/><circle cx="231.5" cy="279.7" r="1.8"/><circle cx="250.5" cy="287.6" r="1.8"/><circle cx="232.0" cy="283.0" r="1.8"/><circle cx="245.5" cy="281.5" r="1.8"/><circle cx="237.1" cy="284.0" r="1.8"/><circle cx="232.0" cy="280.9" r="1.8"/><circle cx="226.3" cy="290.2" r="1.8"/><circle cx="242.3" cy="277.2" r="1.8"/><circle cx="222.6" cy="281.8" r="1.8"/><circle cx="239.8" cy="284.2" r="1.8"/><circle cx="241.9" cy="288.3" r="1.8"/><circle cx="227.8" cy="274.9" r="1.8"/><circle cx="242.3" cy="284.9" r="1.8"/><circle cx="229.4" cy="292.2" r="1.8"/><circle cx="221.8" cy="276.0" r="1.8"/><circle cx="241.1" cy="281.6" r="1.8"/><circle cx="242.1" cy="275.4" r="1.8"/><circle cx="235.4" cy="286.5" r="1.8"/><circle cx="233.4" cy="276.6" r="1.8"/><circle cx="219.2" cy="280.1" r="1.8"/><circle cx="227.7" cy="292.1" r="1.8"/><circle cx="218.7" cy="289.3" r="1.8"/><circle cx="254.2" cy="284.5" r="1.8"/><circle cx="222.7" cy="286.4" r="1.8"/><circle cx="253.1" cy="282.2" r="1.8"/><circle cx="245.1" cy="277.9" r="1.8"/><circle cx="226.4" cy="280.9" r="1.8"/><circle cx="240.4" cy="293.3" r="1.8"/><circle cx="226.2" cy="287.1" r="1.8"/><circle cx="243.3" cy="284.8" r="1.8"/><circle cx="244.9" cy="283.7" r="1.8"/><circle cx="222.3" cy="293.7" r="1.8"/><circle cx="222.8" cy="279.0" r="1.8"/><circle cx="244.7" cy="279.8" r="1.8"/><circle cx="222.9" cy="288.0" r="1.8"/><circle cx="242.3" cy="287.4" r="1.8"/><circle cx="226.7" cy="292.6" r="1.8"/><circle cx="241.7" cy="283.4" r="1.8"/><circle cx="252.6" cy="278.5" r="1.8"/><circle cx="228.0" cy="285.7" r="1.8"/><circle cx="239.1" cy="285.2" r="1.8"/><circle cx="219.8" cy="289.4" r="1.8"/><circle cx="255.1" cy="281.1" r="1.8"/><circle cx="249.2" cy="276.2" r="1.8"/><circle cx="220.4" cy="286.0" r="1.8"/><circle cx="253.4" cy="285.4" r="1.8"/><circle cx="225.3" cy="276.6" r="1.8"/><circle cx="252.6" cy="288.4" r="1.8"/><circle cx="255.6" cy="279.1" r="1.8"/><circle cx="246.4" cy="277.1" r="1.8"/><circle cx="221.0" cy="281.9" r="1.8"/><circle cx="230.0" cy="289.6" r="1.8"/><circle cx="233.1" cy="280.2" r="1.8"/><circle cx="251.4" cy="291.7" r="1.8"/><circle cx="233.9" cy="289.9" r="1.8"/><circle cx="219.2" cy="280.1" r="1.8"/><circle cx="251.1" cy="284.0" r="1.8"/><circle cx="220.5" cy="278.1" r="1.8"/><circle cx="251.6" cy="281.7" r="1.8"/><circle cx="255.7" cy="294.1" r="1.8"/><circle cx="239.3" cy="291.6" r="1.8"/><circle cx="230.2" cy="290.2" r="1.8"/><circle cx="218.3" cy="283.8" r="1.8"/><circle cx="216.7" cy="279.2" r="1.8"/><circle cx="253.4" cy="286.8" r="1.8"/><circle cx="217.9" cy="291.2" r="1.8"/><circle cx="251.0" cy="293.6" r="1.8"/><circle cx="233.7" cy="276.5" r="1.8"/><circle cx="246.8" cy="285.9" r="1.8"/><circle cx="217.9" cy="283.9" r="1.8"/><circle cx="240.6" cy="289.8" r="1.8"/><circle cx="240.9" cy="280.1" r="1.8"/><circle cx="220.7" cy="282.1" r="1.8"/><circle cx="231.6" cy="292.8" r="1.8"/><circle cx="236.1" cy="290.9" r="1.8"/><circle cx="243.1" cy="288.3" r="1.8"/><circle cx="249.7" cy="291.6" r="1.8"/><circle cx="243.7" cy="283.9" r="1.8"/><circle cx="261.3" cy="260.8" r="1.8"/><circle cx="263.6" cy="260.3" r="1.8"/><circle cx="266.0" cy="260.2" r="1.8"/><circle cx="271.3" cy="260.1" r="1.8"/><circle cx="278.0" cy="261.3" r="1.8"/><circle cx="279.8" cy="261.1" r="1.8"/><circle cx="282.2" cy="261.0" r="1.8"/><circle cx="284.2" cy="261.1" r="1.8"/><circle cx="286.1" cy="261.0" r="1.8"/><circle cx="289.8" cy="261.6" r="1.8"/><circle cx="292.2" cy="261.9" r="1.8"/><circle cx="293.8" cy="262.4" r="1.8"/><circle cx="254.5" cy="264.7" r="1.8"/><circle cx="262.5" cy="265.4" r="1.8"/><circle cx="264.3" cy="265.4" r="1.8"/><circle cx="266.8" cy="265.6" r="1.8"/><circle cx="269.3" cy="265.9" r="1.8"/><circle cx="271.8" cy="265.8" r="1.8"/><circle cx="273.8" cy="265.6" r="1.8"/><circle cx="276.5" cy="265.9" r="1.8"/><circle cx="278.5" cy="265.9" r="1.8"/><circle cx="281.2" cy="265.6" r="1.8"/><circle cx="283.6" cy="266.1" r="1.8"/><circle cx="287.0" cy="265.0" r="1.8"/><circle cx="290.8" cy="264.6" r="1.8"/><circle cx="292.6" cy="265.1" r="1.8"/><circle cx="295.3" cy="264.5" r="1.8"/><circle cx="297.2" cy="264.9" r="1.8"/><circle cx="287.7" cy="273.8" r="1.8"/><circle cx="255.7" cy="294.0" r="1.8"/><circle cx="264.2" cy="276.4" r="1.8"/><circle cx="259.0" cy="286.7" r="1.8"/><circle cx="287.0" cy="272.9" r="1.8"/><circle cx="258.2" cy="294.6" r="1.8"/><circle cx="279.4" cy="270.7" r="1.8"/><circle cx="277.3" cy="279.3" r="1.8"/><circle cx="261.6" cy="272.4" r="1.8"/><circle cx="272.4" cy="269.9" r="1.8"/><circle cx="259.1" cy="291.9" r="1.8"/><circle cx="255.6" cy="272.7" r="1.8"/><circle cx="286.7" cy="274.0" r="1.8"/><circle cx="256.3" cy="290.3" r="1.8"/><circle cx="265.3" cy="269.3" r="1.8"/><circle cx="273.1" cy="274.0" r="1.8"/><circle cx="278.7" cy="277.6" r="1.8"/><circle cx="256.6" cy="271.6" r="1.8"/><circle cx="257.7" cy="286.7" r="1.8"/><circle cx="262.8" cy="272.0" r="1.8"/><circle cx="260.7" cy="283.6" r="1.8"/><circle cx="272.1" cy="276.3" r="1.8"/><circle cx="258.4" cy="288.6" r="1.8"/><circle cx="278.4" cy="274.3" r="1.8"/><circle cx="254.6" cy="288.4" r="1.8"/><circle cx="264.4" cy="271.0" r="1.8"/><circle cx="255.3" cy="282.2" r="1.8"/><circle cx="260.5" cy="291.6" r="1.8"/><circle cx="264.8" cy="293.7" r="1.8"/><circle cx="278.5" cy="270.1" r="1.8"/><circle cx="282.0" cy="272.2" r="1.8"/><circle cx="268.7" cy="275.5" r="1.8"/><circle cx="257.7" cy="284.2" r="1.8"/><circle cx="281.8" cy="273.9" r="1.8"/><circle cx="289.7" cy="272.7" r="1.8"/><circle cx="257.0" cy="292.9" r="1.8"/><circle cx="267.1" cy="272.5" r="1.8"/><circle cx="265.7" cy="280.6" r="1.8"/><circle cx="265.6" cy="290.0" r="1.8"/><circle cx="265.4" cy="275.5" r="1.8"/><circle cx="254.1" cy="275.8" r="1.8"/><circle cx="256.3" cy="281.3" r="1.8"/><circle cx="265.9" cy="276.6" r="1.8"/><circle cx="268.4" cy="269.9" r="1.8"/><circle cx="256.1" cy="270.6" r="1.8"/><circle cx="259.2" cy="283.9" r="1.8"/><circle cx="274.8" cy="271.5" r="1.8"/><circle cx="266.6" cy="292.6" r="1.8"/><circle cx="255.8" cy="291.2" r="1.8"/><circle cx="293.4" cy="270.9" r="1.8"/><circle cx="255.3" cy="287.3" r="1.8"/><circle cx="256.3" cy="294.5" r="1.8"/><circle cx="257.0" cy="270.3" r="1.8"/><circle cx="261.1" cy="278.8" r="1.8"/><circle cx="278.9" cy="275.3" r="1.8"/><circle cx="269.5" cy="278.0" r="1.8"/><circle cx="266.3" cy="293.6" r="1.8"/><circle cx="261.0" cy="281.7" r="1.8"/><circle cx="257.9" cy="280.2" r="1.8"/><circle cx="262.8" cy="273.0" r="1.8"/><circle cx="285.5" cy="271.6" r="1.8"/><circle cx="261.8" cy="281.1" r="1.8"/><circle cx="256.6" cy="291.8" r="1.8"/><circle cx="272.5" cy="271.8" r="1.8"/><circle cx="263.5" cy="292.8" r="1.8"/><circle cx="261.1" cy="279.6" r="1.8"/><circle cx="255.6" cy="281.3" r="1.8"/><circle cx="267.6" cy="279.6" r="1.8"/><circle cx="271.8" cy="269.5" r="1.8"/><circle cx="273.0" cy="269.3" r="1.8"/><circle cx="254.9" cy="271.1" r="1.8"/><circle cx="275.8" cy="275.1" r="1.8"/><circle cx="285.7" cy="272.0" r="1.8"/><circle cx="280.2" cy="268.6" r="1.8"/><circle cx="264.3" cy="276.6" r="1.8"/><circle cx="255.3" cy="291.8" r="1.8"/><circle cx="273.7" cy="274.8" r="1.8"/><circle cx="276.4" cy="275.3" r="1.8"/><circle cx="256.7" cy="273.9" r="1.8"/><circle cx="256.1" cy="288.8" r="1.8"/><circle cx="258.1" cy="281.2" r="1.8"/><circle cx="277.7" cy="270.6" r="1.8"/><circle cx="259.3" cy="284.2" r="1.8"/><circle cx="269.0" cy="279.6" r="1.8"/><circle cx="284.4" cy="272.0" r="1.8"/><circle cx="264.5" cy="292.2" r="1.8"/><circle cx="271.6" cy="275.6" r="1.8"/><circle cx="256.4" cy="270.7" r="1.8"/><circle cx="255.4" cy="276.0" r="1.8"/><circle cx="265.0" cy="287.0" r="1.8"/><circle cx="279.3" cy="271.2" r="1.8"/><circle cx="255.0" cy="292.1" r="1.8"/><circle cx="263.2" cy="289.1" r="1.8"/><circle cx="282.4" cy="269.0" r="1.8"/><circle cx="272.7" cy="278.1" r="1.8"/><circle cx="263.1" cy="275.9" r="1.8"/><circle cx="262.9" cy="293.7" r="1.8"/><circle cx="277.7" cy="277.4" r="1.8"/><circle cx="271.0" cy="275.3" r="1.8"/><circle cx="267.1" cy="275.8" r="1.8"/><circle cx="265.1" cy="278.5" r="1.8"/><circle cx="255.0" cy="293.8" r="1.8"/><circle cx="287.5" cy="269.3" r="1.8"/><circle cx="281.9" cy="270.5" r="1.8"/><circle cx="258.3" cy="271.1" r="1.8"/><circle cx="261.3" cy="292.9" r="1.8"/><circle cx="261.9" cy="272.3" r="1.8"/><circle cx="292.8" cy="274.4" r="1.8"/><circle cx="262.3" cy="286.0" r="1.8"/><circle cx="282.7" cy="270.1" r="1.8"/><circle cx="265.4" cy="275.8" r="1.8"/><circle cx="263.9" cy="271.0" r="1.8"/><circle cx="263.7" cy="291.3" r="1.8"/><circle cx="278.8" cy="272.0" r="1.8"/><circle cx="256.3" cy="276.7" r="1.8"/><circle cx="291.3" cy="270.9" r="1.8"/><circle cx="261.6" cy="277.1" r="1.8"/><circle cx="293.4" cy="273.4" r="1.8"/><circle cx="265.1" cy="282.0" r="1.8"/><circle cx="283.2" cy="272.1" r="1.8"/><circle cx="266.8" cy="283.7" r="1.8"/><circle cx="293.6" cy="272.8" r="1.8"/><circle cx="276.1" cy="273.4" r="1.8"/><circle cx="267.0" cy="278.8" r="1.8"/><circle cx="261.7" cy="281.3" r="1.8"/><circle cx="260.3" cy="274.8" r="1.8"/><circle cx="255.3" cy="270.4" r="1.8"/><circle cx="261.4" cy="282.8" r="1.8"/><circle cx="255.6" cy="287.5" r="1.8"/><circle cx="289.6" cy="269.6" r="1.8"/><circle cx="266.5" cy="276.1" r="1.8"/><circle cx="255.7" cy="284.3" r="1.8"/><circle cx="276.5" cy="272.8" r="1.8"/><circle cx="266.1" cy="284.8" r="1.8"/><circle cx="256.9" cy="288.6" r="1.8"/><circle cx="263.6" cy="289.5" r="1.8"/><circle cx="259.5" cy="285.2" r="1.8"/><circle cx="273.8" cy="274.7" r="1.8"/><circle cx="255.4" cy="269.4" r="1.8"/><circle cx="276.8" cy="269.7" r="1.8"/><circle cx="263.3" cy="273.0" r="1.8"/><circle cx="288.9" cy="269.8" r="1.8"/><circle cx="274.3" cy="271.1" r="1.8"/><circle cx="281.0" cy="275.9" r="1.8"/><circle cx="254.2" cy="270.2" r="1.8"/><circle cx="266.2" cy="276.9" r="1.8"/><circle cx="255.1" cy="285.0" r="1.8"/><circle cx="255.0" cy="282.7" r="1.8"/><circle cx="266.1" cy="291.4" r="1.8"/><circle cx="257.9" cy="275.0" r="1.8"/><circle cx="277.1" cy="269.9" r="1.8"/><circle cx="255.3" cy="278.9" r="1.8"/><circle cx="291.8" cy="270.1" r="1.8"/><circle cx="254.9" cy="280.9" r="1.8"/><circle cx="256.8" cy="277.3" r="1.8"/><circle cx="268.2" cy="279.0" r="1.8"/><circle cx="275.1" cy="277.3" r="1.8"/><circle cx="279.2" cy="273.6" r="1.8"/><circle cx="274.7" cy="279.0" r="1.8"/><circle cx="259.3" cy="272.6" r="1.8"/><circle cx="272.1" cy="277.9" r="1.8"/><circle cx="265.4" cy="278.3" r="1.8"/><circle cx="254.2" cy="282.3" r="1.8"/><circle cx="264.9" cy="294.3" r="1.8"/><circle cx="265.9" cy="291.3" r="1.8"/><circle cx="271.7" cy="272.3" r="1.8"/><circle cx="275.7" cy="271.8" r="1.8"/><circle cx="289.1" cy="272.1" r="1.8"/><circle cx="291.9" cy="271.5" r="1.8"/><circle cx="270.1" cy="268.7" r="1.8"/><circle cx="282.3" cy="271.7" r="1.8"/><circle cx="265.6" cy="282.6" r="1.8"/><circle cx="264.8" cy="291.9" r="1.8"/><circle cx="271.8" cy="268.9" r="1.8"/><circle cx="275.7" cy="272.6" r="1.8"/><circle cx="290.6" cy="272.4" r="1.8"/><circle cx="278.0" cy="273.7" r="1.8"/><circle cx="287.3" cy="273.0" r="1.8"/><circle cx="269.5" cy="276.8" r="1.8"/><circle cx="265.0" cy="291.1" r="1.8"/><circle cx="267.7" cy="278.2" r="1.8"/><circle cx="265.7" cy="279.7" r="1.8"/><circle cx="260.2" cy="291.6" r="1.8"/><circle cx="267.8" cy="274.0" r="1.8"/><circle cx="262.2" cy="284.3" r="1.8"/><circle cx="256.3" cy="289.8" r="1.8"/><circle cx="260.9" cy="294.4" r="1.8"/><circle cx="276.6" cy="270.1" r="1.8"/><circle cx="259.8" cy="288.3" r="1.8"/><circle cx="268.2" cy="276.4" r="1.8"/><circle cx="287.8" cy="273.2" r="1.8"/><circle cx="267.3" cy="277.3" r="1.8"/><circle cx="260.0" cy="280.8" r="1.8"/><circle cx="266.9" cy="286.1" r="1.8"/><circle cx="273.2" cy="278.2" r="1.8"/><circle cx="258.8" cy="277.9" r="1.8"/><circle cx="280.1" cy="275.9" r="1.8"/><circle cx="278.2" cy="273.3" r="1.8"/><circle cx="264.8" cy="273.6" r="1.8"/><circle cx="258.7" cy="284.2" r="1.8"/><circle cx="282.4" cy="275.4" r="1.8"/><circle cx="282.4" cy="277.7" r="1.8"/><circle cx="283.2" cy="281.5" r="1.8"/><circle cx="287.5" cy="276.5" r="1.8"/><circle cx="289.5" cy="278.5" r="1.8"/><circle cx="288.0" cy="280.0" r="1.8"/><circle cx="289.3" cy="283.8" r="1.8"/><circle cx="293.2" cy="280.0" r="1.8"/><circle cx="269.4" cy="285.4" r="1.8"/><circle cx="267.8" cy="288.4" r="1.8"/><circle cx="274.0" cy="284.2" r="1.8"/><circle cx="274.7" cy="286.1" r="1.8"/><circle cx="277.0" cy="285.4" r="1.8"/><circle cx="278.6" cy="286.5" r="1.8"/><circle cx="279.3" cy="288.8" r="1.8"/><circle cx="275.5" cy="288.8" r="1.8"/><circle cx="277.0" cy="291.1" r="1.8"/><circle cx="285.5" cy="288.8" r="1.8"/><circle cx="271.7" cy="292.6" r="1.8"/><circle cx="269.4" cy="293.4" r="1.8"/><circle cx="266.3" cy="293.8" r="1.8"/><circle cx="264.0" cy="294.2" r="1.8"/><circle cx="276.3" cy="292.6" r="1.8"/><circle cx="268.5" cy="281.5" r="1.8"/><circle cx="271.0" cy="282.0" r="1.8"/><circle cx="270.0" cy="280.5" r="1.8"/><circle cx="299.6" cy="259.9" r="1.8"/><circle cx="302.0" cy="261.3" r="1.8"/><circle cx="304.9" cy="260.8" r="1.8"/><circle cx="307.8" cy="260.2" r="1.8"/><circle cx="303.9" cy="265.2" r="1.8"/><circle cx="306.8" cy="265.2" r="1.8"/><circle cx="319.8" cy="260.2" r="1.8"/><circle cx="319.3" cy="265.2" r="1.8"/><circle cx="290.2" cy="261.9" r="1.8"/><circle cx="292.6" cy="262.6" r="1.8"/><circle cx="294.8" cy="262.4" r="1.8"/><circle cx="297.1" cy="263.0" r="1.8"/><circle cx="290.1" cy="265.7" r="1.8"/><circle cx="292.1" cy="264.7" r="1.8"/><circle cx="295.0" cy="265.6" r="1.8"/><circle cx="295.8" cy="270.4" r="1.8"/><circle cx="298.2" cy="270.9" r="1.8"/><circle cx="296.7" cy="273.3" r="1.8"/><circle cx="289.8" cy="272.3" r="1.8"/><circle cx="292.1" cy="271.2" r="1.8"/><circle cx="308.7" cy="274.8" r="1.8"/><circle cx="299.6" cy="278.1" r="1.8"/><circle cx="319.8" cy="278.1" r="1.8"/><circle cx="293.8" cy="278.1" r="1.8"/><circle cx="293.8" cy="281.0" r="1.8"/><circle cx="299.6" cy="283.9" r="1.8"/><circle cx="290.5" cy="283.9" r="1.8"/></g>
<line x1="204.86" y1="308.3" x2="204.86" y2="1.0" stroke="#ff1a0a" stroke-width="2.05" stroke-dasharray="7.5 7.6"/>
<line x1="232.74" y1="308.3" x2="232.74" y2="1.0" stroke="#ff1a0a" stroke-width="2.05" stroke-dasharray="7.5 7.6"/>
<line x1="29.5" y1="112.78" x2="519.8" y2="112.78" stroke="#ff1a0a" stroke-width="2.05" stroke-dasharray="7.5 7.6"/>
<line x1="149.10" y1="352.8" x2="149.10" y2="659.9" stroke="#ebebeb" stroke-width="0.6"/>
<line x1="288.50" y1="352.8" x2="288.50" y2="659.9" stroke="#ebebeb" stroke-width="0.6"/>
<line x1="427.90" y1="352.8" x2="427.90" y2="659.9" stroke="#ebebeb" stroke-width="0.6"/>
<line x1="29.5" y1="611.14" x2="519.8" y2="611.14" stroke="#ebebeb" stroke-width="0.6"/>
<line x1="29.5" y1="541.41" x2="519.8" y2="541.41" stroke="#ebebeb" stroke-width="0.6"/>
<line x1="29.5" y1="471.69" x2="519.8" y2="471.69" stroke="#ebebeb" stroke-width="0.6"/>
<line x1="29.5" y1="401.96" x2="519.8" y2="401.96" stroke="#ebebeb" stroke-width="0.6"/>
<line x1="79.40" y1="352.8" x2="79.40" y2="659.9" stroke="#ebebeb" stroke-width="1.1"/>
<line x1="218.80" y1="352.8" x2="218.80" y2="659.9" stroke="#ebebeb" stroke-width="1.1"/>
<line x1="358.20" y1="352.8" x2="358.20" y2="659.9" stroke="#ebebeb" stroke-width="1.1"/>
<line x1="497.60" y1="352.8" x2="497.60" y2="659.9" stroke="#ebebeb" stroke-width="1.1"/>
<line x1="29.5" y1="646.00" x2="519.8" y2="646.00" stroke="#ebebeb" stroke-width="1.1"/>
<line x1="29.5" y1="576.27" x2="519.8" y2="576.27" stroke="#ebebeb" stroke-width="1.1"/>
<line x1="29.5" y1="506.55" x2="519.8" y2="506.55" stroke="#ebebeb" stroke-width="1.1"/>
<line x1="29.5" y1="436.83" x2="519.8" y2="436.83" stroke="#ebebeb" stroke-width="1.1"/>
<line x1="29.5" y1="367.10" x2="519.8" y2="367.10" stroke="#ebebeb" stroke-width="1.1"/>
<text x="26.2" y="649.70" text-anchor="end" textLength="12.5" lengthAdjust="spacingAndGlyphs" class="tk">0.0</text>
<text x="26.2" y="579.98" text-anchor="end" textLength="12.5" lengthAdjust="spacingAndGlyphs" class="tk">0.5</text>
<text x="26.2" y="510.25" text-anchor="end" textLength="12.5" lengthAdjust="spacingAndGlyphs" class="tk">1.0</text>
<text x="26.2" y="440.53" text-anchor="end" textLength="12.5" lengthAdjust="spacingAndGlyphs" class="tk">1.5</text>
<text x="26.2" y="370.80" text-anchor="end" textLength="12.5" lengthAdjust="spacingAndGlyphs" class="tk">2.0</text>
<text x="79.40" y="670.30" text-anchor="middle" textLength="13.2" lengthAdjust="spacingAndGlyphs" class="tk">-10</text>
<text x="218.80" y="670.30" text-anchor="middle" textLength="5.1" lengthAdjust="spacingAndGlyphs" class="tk">0</text>
<text x="358.20" y="670.30" text-anchor="middle" textLength="10.25" lengthAdjust="spacingAndGlyphs" class="tk">10</text>
<text x="497.60" y="670.30" text-anchor="middle" textLength="10.25" lengthAdjust="spacingAndGlyphs" class="tk">20</text>
<text x="228.0" y="681.2" textLength="93.4" lengthAdjust="spacingAndGlyphs" class="ti">log2(Fold Change)</text>
<text transform="translate(9.45 557.90) rotate(-90)" textLength="101.6" lengthAdjust="spacingAndGlyphs" class="ti">-log10(FDR P-Value)</text>

<g fill="#000"><circle cx="71.6" cy="484.1" r="1.8"/><circle cx="115.3" cy="494.3" r="1.8"/><circle cx="130.5" cy="494.6" r="1.8"/><circle cx="134.1" cy="501.8" r="1.8"/><circle cx="81.6" cy="514.5" r="1.8"/><circle cx="105.7" cy="518.1" r="1.8"/><circle cx="112.6" cy="519.1" r="1.8"/><circle cx="119.2" cy="518.1" r="1.8"/><circle cx="122.3" cy="516.5" r="1.8"/><circle cx="127.6" cy="514.8" r="1.8"/><circle cx="134.5" cy="513.8" r="1.8"/><circle cx="136.9" cy="489.2" r="1.8"/><circle cx="151.0" cy="494.3" r="1.8"/><circle cx="153.3" cy="497.3" r="1.8"/><circle cx="157.9" cy="490.0" r="1.8"/><circle cx="204.5" cy="484.1" r="1.8"/><circle cx="149.7" cy="519.6" r="1.8"/><circle cx="163.8" cy="518.8" r="1.8"/><circle cx="169.2" cy="519.4" r="1.8"/><circle cx="145.4" cy="520.5" r="1.8"/><circle cx="273.8" cy="513.8" r="1.8"/><circle cx="271.0" cy="519.1" r="1.8"/><circle cx="288.0" cy="483.5" r="1.8"/><circle cx="303.8" cy="484.1" r="1.8"/><circle cx="319.9" cy="477.4" r="1.8"/><circle cx="329.4" cy="484.1" r="1.8"/><circle cx="294.3" cy="489.2" r="1.8"/><circle cx="299.2" cy="489.2" r="1.8"/><circle cx="300.7" cy="489.2" r="1.8"/><circle cx="308.4" cy="489.2" r="1.8"/><circle cx="311.9" cy="489.2" r="1.8"/><circle cx="321.2" cy="489.2" r="1.8"/><circle cx="323.8" cy="489.2" r="1.8"/><circle cx="333.0" cy="489.2" r="1.8"/><circle cx="337.6" cy="489.2" r="1.8"/><circle cx="348.3" cy="489.2" r="1.8"/><circle cx="352.5" cy="489.2" r="1.8"/><circle cx="320.2" cy="491.2" r="1.8"/><circle cx="339.1" cy="493.0" r="1.8"/><circle cx="330.7" cy="494.3" r="1.8"/><circle cx="333.7" cy="494.3" r="1.8"/><circle cx="335.3" cy="494.3" r="1.8"/><circle cx="327.6" cy="497.6" r="1.8"/><circle cx="332.5" cy="497.6" r="1.8"/><circle cx="349.1" cy="497.6" r="1.8"/><circle cx="326.1" cy="501.8" r="1.8"/><circle cx="329.9" cy="503.0" r="1.8"/><circle cx="341.4" cy="501.8" r="1.8"/><circle cx="316.9" cy="505.6" r="1.8"/><circle cx="352.2" cy="509.2" r="1.8"/><circle cx="289.5" cy="514.5" r="1.8"/><circle cx="298.1" cy="512.7" r="1.8"/><circle cx="300.0" cy="512.7" r="1.8"/><circle cx="299.2" cy="514.5" r="1.8"/><circle cx="306.9" cy="511.2" r="1.8"/><circle cx="311.5" cy="513.8" r="1.8"/><circle cx="315.0" cy="514.5" r="1.8"/><circle cx="304.3" cy="516.1" r="1.8"/><circle cx="308.4" cy="515.8" r="1.8"/><circle cx="320.7" cy="514.5" r="1.8"/><circle cx="324.5" cy="512.7" r="1.8"/><circle cx="327.3" cy="511.2" r="1.8"/><circle cx="332.5" cy="512.7" r="1.8"/><circle cx="332.5" cy="516.8" r="1.8"/><circle cx="287.4" cy="517.9" r="1.8"/><circle cx="299.2" cy="519.4" r="1.8"/><circle cx="303.8" cy="518.8" r="1.8"/><circle cx="310.7" cy="519.1" r="1.8"/><circle cx="322.2" cy="517.9" r="1.8"/><circle cx="361.3" cy="484.1" r="1.8"/><circle cx="365.5" cy="501.7" r="1.8"/><circle cx="370.1" cy="513.4" r="1.8"/><circle cx="361.3" cy="518.0" r="1.8"/><circle cx="114.1" cy="527.3" r="1.8"/><circle cx="87.2" cy="531.1" r="1.8"/><circle cx="110.0" cy="531.1" r="1.8"/><circle cx="116.1" cy="531.1" r="1.8"/><circle cx="120.7" cy="533.1" r="1.8"/><circle cx="123.6" cy="531.1" r="1.8"/><circle cx="92.6" cy="539.9" r="1.8"/><circle cx="116.4" cy="550.8" r="1.8"/><circle cx="90.3" cy="553.4" r="1.8"/><circle cx="92.6" cy="559.5" r="1.8"/><circle cx="112.1" cy="559.5" r="1.8"/><circle cx="125.9" cy="559.2" r="1.8"/><circle cx="128.7" cy="560.3" r="1.8"/><circle cx="132.5" cy="558.0" r="1.8"/><circle cx="130.2" cy="561.1" r="1.8"/><circle cx="132.5" cy="564.4" r="1.8"/><circle cx="145.4" cy="521.1" r="1.8"/><circle cx="150.0" cy="520.4" r="1.8"/><circle cx="136.1" cy="531.1" r="1.8"/><circle cx="138.4" cy="532.7" r="1.8"/><circle cx="140.7" cy="535.0" r="1.8"/><circle cx="143.5" cy="531.1" r="1.8"/><circle cx="157.2" cy="533.1" r="1.8"/><circle cx="169.2" cy="531.6" r="1.8"/><circle cx="138.4" cy="539.6" r="1.8"/><circle cx="150.7" cy="540.3" r="1.8"/><circle cx="167.6" cy="539.1" r="1.8"/><circle cx="187.3" cy="541.1" r="1.8"/><circle cx="153.0" cy="545.0" r="1.8"/><circle cx="149.2" cy="547.2" r="1.8"/><circle cx="151.2" cy="548.0" r="1.8"/><circle cx="150.0" cy="546.5" r="1.8"/><circle cx="145.4" cy="553.4" r="1.8"/><circle cx="132.3" cy="558.0" r="1.8"/><circle cx="140.0" cy="559.5" r="1.8"/><circle cx="143.0" cy="559.5" r="1.8"/><circle cx="146.9" cy="558.8" r="1.8"/><circle cx="149.2" cy="557.7" r="1.8"/><circle cx="148.1" cy="560.8" r="1.8"/><circle cx="146.9" cy="561.8" r="1.8"/><circle cx="158.1" cy="559.5" r="1.8"/><circle cx="166.5" cy="556.2" r="1.8"/><circle cx="164.1" cy="559.5" r="1.8"/><circle cx="164.5" cy="561.1" r="1.8"/><circle cx="180.7" cy="559.5" r="1.8"/><circle cx="186.4" cy="558.3" r="1.8"/><circle cx="193.0" cy="559.5" r="1.8"/><circle cx="184.8" cy="564.1" r="1.8"/><circle cx="203.4" cy="561.1" r="1.8"/><circle cx="230.3" cy="531.1" r="1.8"/><circle cx="246.8" cy="531.1" r="1.8"/><circle cx="261.5" cy="533.1" r="1.8"/><circle cx="281.5" cy="531.1" r="1.8"/><circle cx="277.2" cy="535.0" r="1.8"/><circle cx="276.4" cy="537.7" r="1.8"/><circle cx="266.9" cy="540.3" r="1.8"/><circle cx="281.3" cy="541.1" r="1.8"/><circle cx="257.2" cy="545.0" r="1.8"/><circle cx="264.6" cy="551.1" r="1.8"/><circle cx="263.3" cy="555.2" r="1.8"/><circle cx="278.7" cy="553.1" r="1.8"/><circle cx="283.6" cy="553.4" r="1.8"/><circle cx="284.5" cy="555.0" r="1.8"/><circle cx="234.5" cy="558.5" r="1.8"/><circle cx="251.8" cy="559.8" r="1.8"/><circle cx="256.9" cy="559.5" r="1.8"/><circle cx="270.7" cy="559.5" r="1.8"/><circle cx="274.9" cy="559.5" r="1.8"/><circle cx="276.4" cy="561.1" r="1.8"/><circle cx="278.4" cy="560.3" r="1.8"/><circle cx="278.4" cy="561.4" r="1.8"/><circle cx="284.0" cy="559.5" r="1.8"/><circle cx="327.3" cy="521.1" r="1.8"/><circle cx="307.3" cy="527.0" r="1.8"/><circle cx="315.0" cy="526.5" r="1.8"/><circle cx="295.0" cy="531.1" r="1.8"/><circle cx="298.7" cy="531.1" r="1.8"/><circle cx="300.7" cy="531.1" r="1.8"/><circle cx="307.3" cy="531.1" r="1.8"/><circle cx="320.7" cy="531.1" r="1.8"/><circle cx="324.2" cy="531.1" r="1.8"/><circle cx="325.3" cy="531.1" r="1.8"/><circle cx="328.8" cy="531.1" r="1.8"/><circle cx="332.2" cy="532.0" r="1.8"/><circle cx="334.0" cy="532.0" r="1.8"/><circle cx="308.4" cy="533.7" r="1.8"/><circle cx="324.5" cy="533.1" r="1.8"/><circle cx="286.4" cy="540.3" r="1.8"/><circle cx="287.7" cy="540.8" r="1.8"/><circle cx="296.6" cy="539.8" r="1.8"/><circle cx="299.7" cy="539.8" r="1.8"/><circle cx="300.3" cy="540.8" r="1.8"/><circle cx="304.9" cy="540.3" r="1.8"/><circle cx="306.4" cy="539.8" r="1.8"/><circle cx="313.5" cy="540.3" r="1.8"/><circle cx="320.2" cy="538.3" r="1.8"/><circle cx="291.1" cy="543.9" r="1.8"/><circle cx="318.1" cy="543.9" r="1.8"/><circle cx="313.5" cy="545.0" r="1.8"/><circle cx="294.1" cy="547.6" r="1.8"/><circle cx="295.4" cy="548.5" r="1.8"/><circle cx="309.5" cy="549.1" r="1.8"/><circle cx="283.8" cy="553.4" r="1.8"/><circle cx="283.4" cy="554.6" r="1.8"/><circle cx="303.0" cy="552.6" r="1.8"/><circle cx="320.2" cy="552.6" r="1.8"/><circle cx="321.8" cy="553.4" r="1.8"/><circle cx="308.4" cy="554.6" r="1.8"/><circle cx="292.0" cy="556.5" r="1.8"/><circle cx="285.8" cy="559.5" r="1.8"/><circle cx="298.7" cy="559.5" r="1.8"/><circle cx="303.8" cy="559.5" r="1.8"/><circle cx="308.9" cy="559.5" r="1.8"/><circle cx="309.2" cy="561.4" r="1.8"/><circle cx="316.5" cy="559.5" r="1.8"/><circle cx="318.4" cy="561.8" r="1.8"/><circle cx="291.1" cy="563.8" r="1.8"/><circle cx="337.6" cy="562.9" r="1.8"/><circle cx="332.3" cy="567.4" r="1.8"/><circle cx="127.2" cy="572.6" r="1.8"/><circle cx="133.0" cy="577.2" r="1.8"/><circle cx="108.0" cy="584.3" r="1.8"/><circle cx="128.7" cy="588.0" r="1.8"/><circle cx="129.9" cy="591.5" r="1.8"/><circle cx="128.4" cy="593.8" r="1.8"/><circle cx="134.1" cy="600.7" r="1.8"/><circle cx="126.6" cy="610.2" r="1.8"/><circle cx="150.7" cy="567.7" r="1.8"/><circle cx="155.8" cy="566.4" r="1.8"/><circle cx="138.4" cy="571.1" r="1.8"/><circle cx="147.7" cy="571.1" r="1.8"/><circle cx="146.6" cy="574.6" r="1.8"/><circle cx="149.2" cy="576.6" r="1.8"/><circle cx="163.0" cy="571.1" r="1.8"/><circle cx="166.1" cy="570.0" r="1.8"/><circle cx="164.5" cy="572.0" r="1.8"/><circle cx="167.6" cy="571.5" r="1.8"/><circle cx="161.5" cy="574.6" r="1.8"/><circle cx="165.3" cy="574.6" r="1.8"/><circle cx="169.2" cy="574.6" r="1.8"/><circle cx="170.2" cy="576.9" r="1.8"/><circle cx="170.7" cy="570.0" r="1.8"/><circle cx="175.8" cy="570.4" r="1.8"/><circle cx="180.7" cy="566.9" r="1.8"/><circle cx="182.2" cy="572.0" r="1.8"/><circle cx="185.3" cy="564.3" r="1.8"/><circle cx="187.1" cy="566.9" r="1.8"/><circle cx="200.9" cy="566.9" r="1.8"/><circle cx="133.4" cy="577.2" r="1.8"/><circle cx="140.4" cy="578.1" r="1.8"/><circle cx="140.7" cy="581.5" r="1.8"/><circle cx="156.1" cy="578.7" r="1.8"/><circle cx="157.6" cy="578.7" r="1.8"/><circle cx="196.0" cy="577.2" r="1.8"/><circle cx="138.4" cy="584.3" r="1.8"/><circle cx="140.0" cy="585.3" r="1.8"/><circle cx="140.4" cy="587.6" r="1.8"/><circle cx="152.3" cy="582.7" r="1.8"/><circle cx="160.7" cy="583.3" r="1.8"/><circle cx="164.1" cy="584.6" r="1.8"/><circle cx="176.1" cy="583.3" r="1.8"/><circle cx="188.7" cy="581.8" r="1.8"/><circle cx="187.6" cy="587.6" r="1.8"/><circle cx="202.5" cy="588.0" r="1.8"/><circle cx="209.1" cy="586.1" r="1.8"/><circle cx="130.8" cy="590.0" r="1.8"/><circle cx="154.3" cy="588.4" r="1.8"/><circle cx="159.2" cy="589.5" r="1.8"/><circle cx="157.3" cy="592.2" r="1.8"/><circle cx="145.4" cy="592.2" r="1.8"/><circle cx="148.4" cy="590.7" r="1.8"/><circle cx="152.3" cy="593.0" r="1.8"/><circle cx="150.7" cy="596.9" r="1.8"/><circle cx="153.0" cy="598.4" r="1.8"/><circle cx="136.9" cy="595.3" r="1.8"/><circle cx="138.4" cy="598.4" r="1.8"/><circle cx="134.6" cy="600.2" r="1.8"/><circle cx="169.9" cy="590.7" r="1.8"/><circle cx="170.2" cy="594.5" r="1.8"/><circle cx="172.2" cy="595.6" r="1.8"/><circle cx="180.7" cy="591.5" r="1.8"/><circle cx="181.9" cy="593.0" r="1.8"/><circle cx="190.2" cy="595.6" r="1.8"/><circle cx="191.4" cy="596.9" r="1.8"/><circle cx="166.9" cy="598.4" r="1.8"/><circle cx="168.4" cy="600.2" r="1.8"/><circle cx="170.7" cy="600.2" r="1.8"/><circle cx="165.3" cy="601.2" r="1.8"/><circle cx="172.2" cy="601.2" r="1.8"/><circle cx="155.3" cy="595.3" r="1.8"/><circle cx="179.1" cy="600.7" r="1.8"/><circle cx="182.2" cy="601.5" r="1.8"/><circle cx="183.7" cy="603.0" r="1.8"/><circle cx="185.3" cy="604.5" r="1.8"/><circle cx="181.4" cy="606.1" r="1.8"/><circle cx="184.5" cy="606.8" r="1.8"/><circle cx="186.8" cy="606.1" r="1.8"/><circle cx="197.6" cy="601.5" r="1.8"/><circle cx="199.9" cy="605.3" r="1.8"/><circle cx="196.0" cy="606.1" r="1.8"/><circle cx="148.4" cy="606.1" r="1.8"/><circle cx="154.6" cy="606.8" r="1.8"/><circle cx="159.9" cy="605.3" r="1.8"/><circle cx="240.3" cy="566.9" r="1.8"/><circle cx="255.7" cy="568.9" r="1.8"/><circle cx="260.6" cy="566.9" r="1.8"/><circle cx="263.7" cy="570.7" r="1.8"/><circle cx="253.8" cy="572.3" r="1.8"/><circle cx="252.9" cy="574.1" r="1.8"/><circle cx="260.0" cy="574.1" r="1.8"/><circle cx="268.0" cy="571.5" r="1.8"/><circle cx="268.7" cy="575.4" r="1.8"/><circle cx="272.6" cy="571.5" r="1.8"/><circle cx="275.6" cy="568.4" r="1.8"/><circle cx="277.2" cy="570.7" r="1.8"/><circle cx="280.2" cy="573.8" r="1.8"/><circle cx="282.5" cy="567.7" r="1.8"/><circle cx="283.3" cy="570.7" r="1.8"/><circle cx="278.7" cy="575.4" r="1.8"/><circle cx="281.8" cy="576.1" r="1.8"/><circle cx="213.9" cy="577.2" r="1.8"/><circle cx="221.6" cy="577.2" r="1.8"/><circle cx="233.9" cy="577.2" r="1.8"/><circle cx="224.7" cy="583.0" r="1.8"/><circle cx="226.8" cy="582.3" r="1.8"/><circle cx="210.4" cy="586.4" r="1.8"/><circle cx="236.5" cy="584.6" r="1.8"/><circle cx="237.6" cy="584.3" r="1.8"/><circle cx="243.1" cy="585.3" r="1.8"/><circle cx="246.2" cy="581.5" r="1.8"/><circle cx="246.5" cy="583.8" r="1.8"/><circle cx="252.3" cy="579.7" r="1.8"/><circle cx="252.9" cy="584.3" r="1.8"/><circle cx="263.7" cy="584.3" r="1.8"/><circle cx="268.3" cy="578.7" r="1.8"/><circle cx="272.6" cy="580.0" r="1.8"/><circle cx="271.3" cy="584.6" r="1.8"/><circle cx="273.3" cy="584.6" r="1.8"/><circle cx="275.3" cy="583.0" r="1.8"/><circle cx="280.2" cy="581.5" r="1.8"/><circle cx="281.8" cy="586.9" r="1.8"/><circle cx="253.4" cy="589.2" r="1.8"/><circle cx="218.8" cy="591.5" r="1.8"/><circle cx="235.4" cy="591.9" r="1.8"/><circle cx="241.9" cy="591.2" r="1.8"/><circle cx="215.0" cy="595.0" r="1.8"/><circle cx="240.6" cy="595.0" r="1.8"/><circle cx="252.9" cy="595.0" r="1.8"/><circle cx="254.1" cy="597.6" r="1.8"/><circle cx="256.4" cy="594.5" r="1.8"/><circle cx="258.7" cy="596.9" r="1.8"/><circle cx="258.0" cy="600.0" r="1.8"/><circle cx="260.3" cy="591.5" r="1.8"/><circle cx="263.3" cy="594.5" r="1.8"/><circle cx="264.1" cy="598.4" r="1.8"/><circle cx="265.2" cy="601.2" r="1.8"/><circle cx="269.2" cy="595.6" r="1.8"/><circle cx="271.8" cy="596.9" r="1.8"/><circle cx="275.6" cy="597.6" r="1.8"/><circle cx="278.7" cy="600.7" r="1.8"/><circle cx="281.8" cy="596.1" r="1.8"/><circle cx="281.8" cy="593.0" r="1.8"/><circle cx="272.6" cy="593.0" r="1.8"/><circle cx="268.7" cy="591.5" r="1.8"/><circle cx="272.6" cy="601.5" r="1.8"/><circle cx="220.0" cy="600.2" r="1.8"/><circle cx="225.0" cy="600.7" r="1.8"/><circle cx="216.1" cy="601.8" r="1.8"/><circle cx="217.3" cy="603.8" r="1.8"/><circle cx="220.4" cy="604.5" r="1.8"/><circle cx="238.0" cy="603.0" r="1.8"/><circle cx="236.5" cy="605.6" r="1.8"/><circle cx="254.1" cy="604.5" r="1.8"/><circle cx="257.2" cy="606.1" r="1.8"/><circle cx="262.6" cy="604.5" r="1.8"/><circle cx="264.1" cy="606.1" r="1.8"/><circle cx="269.5" cy="605.3" r="1.8"/><circle cx="272.6" cy="606.1" r="1.8"/><circle cx="228.0" cy="608.8" r="1.8"/><circle cx="284.9" cy="566.9" r="1.8"/><circle cx="289.5" cy="566.9" r="1.8"/><circle cx="308.9" cy="566.9" r="1.8"/><circle cx="326.1" cy="566.9" r="1.8"/><circle cx="327.3" cy="568.9" r="1.8"/><circle cx="332.5" cy="566.9" r="1.8"/><circle cx="293.1" cy="568.4" r="1.8"/><circle cx="294.1" cy="570.4" r="1.8"/><circle cx="293.5" cy="571.5" r="1.8"/><circle cx="298.7" cy="571.1" r="1.8"/><circle cx="281.2" cy="570.7" r="1.8"/><circle cx="286.4" cy="571.5" r="1.8"/><circle cx="280.8" cy="574.6" r="1.8"/><circle cx="283.1" cy="575.4" r="1.8"/><circle cx="283.4" cy="577.2" r="1.8"/><circle cx="285.4" cy="577.2" r="1.8"/><circle cx="292.3" cy="575.7" r="1.8"/><circle cx="295.4" cy="574.6" r="1.8"/><circle cx="308.4" cy="574.6" r="1.8"/><circle cx="295.4" cy="578.7" r="1.8"/><circle cx="296.9" cy="580.7" r="1.8"/><circle cx="298.1" cy="582.7" r="1.8"/><circle cx="300.0" cy="583.8" r="1.8"/><circle cx="297.7" cy="583.8" r="1.8"/><circle cx="281.5" cy="581.5" r="1.8"/><circle cx="287.7" cy="584.3" r="1.8"/><circle cx="284.6" cy="586.1" r="1.8"/><circle cx="280.8" cy="587.3" r="1.8"/><circle cx="295.0" cy="588.0" r="1.8"/><circle cx="306.4" cy="586.4" r="1.8"/><circle cx="309.5" cy="591.5" r="1.8"/><circle cx="285.4" cy="591.5" r="1.8"/><circle cx="286.1" cy="594.1" r="1.8"/><circle cx="281.5" cy="595.3" r="1.8"/><circle cx="283.4" cy="596.9" r="1.8"/><circle cx="280.8" cy="599.2" r="1.8"/><circle cx="294.6" cy="595.3" r="1.8"/><circle cx="296.9" cy="596.9" r="1.8"/><circle cx="304.6" cy="595.6" r="1.8"/><circle cx="306.4" cy="594.5" r="1.8"/><circle cx="289.5" cy="598.4" r="1.8"/><circle cx="291.1" cy="600.2" r="1.8"/><circle cx="293.1" cy="599.2" r="1.8"/><circle cx="291.5" cy="601.8" r="1.8"/><circle cx="295.4" cy="601.5" r="1.8"/><circle cx="293.8" cy="603.0" r="1.8"/><circle cx="303.3" cy="601.8" r="1.8"/><circle cx="283.8" cy="606.1" r="1.8"/><circle cx="287.4" cy="605.8" r="1.8"/><circle cx="291.1" cy="606.1" r="1.8"/><circle cx="300.7" cy="607.3" r="1.8"/><circle cx="281.1" cy="610.1" r="1.8"/><circle cx="283.2" cy="610.1" r="1.8"/><circle cx="285.9" cy="609.5" r="1.8"/><circle cx="288.4" cy="610.1" r="1.8"/><circle cx="296.9" cy="611.6" r="1.8"/><circle cx="297.9" cy="613.7" r="1.8"/><circle cx="282.1" cy="614.8" r="1.8"/><circle cx="289.5" cy="614.8" r="1.8"/><circle cx="288.4" cy="616.5" r="1.8"/><circle cx="302.2" cy="618.0" r="1.8"/><circle cx="280.0" cy="618.0" r="1.8"/><circle cx="285.3" cy="620.1" r="1.8"/><circle cx="287.4" cy="620.1" r="1.8"/><circle cx="284.2" cy="627.4" r="1.8"/><circle cx="285.3" cy="629.6" r="1.8"/><circle cx="283.2" cy="631.3" r="1.8"/><circle cx="287.4" cy="632.1" r="1.8"/><circle cx="281.1" cy="633.8" r="1.8"/><circle cx="291.6" cy="629.1" r="1.8"/><circle cx="293.7" cy="629.1" r="1.8"/><circle cx="296.9" cy="631.7" r="1.8"/><circle cx="291.6" cy="639.5" r="1.8"/><circle cx="297.9" cy="640.1" r="1.8"/><circle cx="302.2" cy="640.1" r="1.8"/><circle cx="280.0" cy="642.2" r="1.8"/><circle cx="148.2" cy="606.0" r="1.8"/><circle cx="151.4" cy="608.1" r="1.8"/><circle cx="143.9" cy="610.6" r="1.8"/><circle cx="154.0" cy="611.5" r="1.8"/><circle cx="154.3" cy="613.8" r="1.8"/><circle cx="142.2" cy="618.2" r="1.8"/><circle cx="137.4" cy="621.9" r="1.8"/><circle cx="151.4" cy="625.3" r="1.8"/><circle cx="146.2" cy="628.6" r="1.8"/><circle cx="135.1" cy="631.1" r="1.8"/><circle cx="153.7" cy="631.7" r="1.8"/><circle cx="139.7" cy="638.0" r="1.8"/><circle cx="151.2" cy="638.0" r="1.8"/><circle cx="165.4" cy="600.5" r="1.8"/><circle cx="169.2" cy="600.5" r="1.8"/><circle cx="173.0" cy="601.0" r="1.8"/><circle cx="181.0" cy="603.0" r="1.8"/><circle cx="183.0" cy="605.0" r="1.8"/><circle cx="179.5" cy="607.0" r="1.8"/><circle cx="186.0" cy="606.0" r="1.8"/><circle cx="188.0" cy="609.0" r="1.8"/><circle cx="183.5" cy="609.5" r="1.8"/><circle cx="197.0" cy="602.0" r="1.8"/><circle cx="198.0" cy="604.8" r="1.8"/><circle cx="196.0" cy="606.7" r="1.8"/><circle cx="199.0" cy="607.7" r="1.8"/><circle cx="151.4" cy="607.7" r="1.8"/><circle cx="156.2" cy="607.2" r="1.8"/><circle cx="160.1" cy="605.8" r="1.8"/><circle cx="168.7" cy="603.8" r="1.8"/><circle cx="166.8" cy="608.2" r="1.8"/><circle cx="167.8" cy="609.6" r="1.8"/><circle cx="170.6" cy="607.7" r="1.8"/><circle cx="172.6" cy="608.6" r="1.8"/><circle cx="171.6" cy="610.6" r="1.8"/><circle cx="154.3" cy="610.6" r="1.8"/><circle cx="155.3" cy="613.4" r="1.8"/><circle cx="162.5" cy="610.6" r="1.8"/><circle cx="175.9" cy="609.6" r="1.8"/><circle cx="177.4" cy="610.6" r="1.8"/><circle cx="160.1" cy="614.4" r="1.8"/><circle cx="162.5" cy="615.4" r="1.8"/><circle cx="166.8" cy="613.4" r="1.8"/><circle cx="168.2" cy="615.8" r="1.8"/><circle cx="169.7" cy="617.3" r="1.8"/><circle cx="175.0" cy="613.4" r="1.8"/><circle cx="180.2" cy="614.4" r="1.8"/><circle cx="178.8" cy="616.8" r="1.8"/><circle cx="177.4" cy="618.2" r="1.8"/><circle cx="191.3" cy="613.4" r="1.8"/><circle cx="193.7" cy="612.5" r="1.8"/><circle cx="194.1" cy="615.4" r="1.8"/><circle cx="163.4" cy="617.8" r="1.8"/><circle cx="164.9" cy="619.7" r="1.8"/><circle cx="166.3" cy="618.7" r="1.8"/><circle cx="171.6" cy="619.2" r="1.8"/><circle cx="172.6" cy="621.1" r="1.8"/><circle cx="173.0" cy="623.0" r="1.8"/><circle cx="160.6" cy="622.1" r="1.8"/><circle cx="161.5" cy="623.5" r="1.8"/><circle cx="163.0" cy="623.0" r="1.8"/><circle cx="167.3" cy="622.1" r="1.8"/><circle cx="175.9" cy="622.1" r="1.8"/><circle cx="177.8" cy="623.0" r="1.8"/><circle cx="179.8" cy="622.6" r="1.8"/><circle cx="181.7" cy="621.6" r="1.8"/><circle cx="183.6" cy="620.2" r="1.8"/><circle cx="185.5" cy="619.2" r="1.8"/><circle cx="186.9" cy="620.6" r="1.8"/><circle cx="151.4" cy="625.4" r="1.8"/><circle cx="156.2" cy="625.4" r="1.8"/><circle cx="160.1" cy="625.9" r="1.8"/><circle cx="163.9" cy="626.4" r="1.8"/><circle cx="169.2" cy="625.9" r="1.8"/><circle cx="170.6" cy="627.8" r="1.8"/><circle cx="172.1" cy="629.8" r="1.8"/><circle cx="173.5" cy="627.8" r="1.8"/><circle cx="175.0" cy="626.9" r="1.8"/><circle cx="176.9" cy="625.4" r="1.8"/><circle cx="178.8" cy="627.8" r="1.8"/><circle cx="180.7" cy="626.9" r="1.8"/><circle cx="182.6" cy="625.4" r="1.8"/><circle cx="153.8" cy="631.7" r="1.8"/><circle cx="163.0" cy="631.7" r="1.8"/><circle cx="165.4" cy="632.1" r="1.8"/><circle cx="170.2" cy="631.7" r="1.8"/><circle cx="173.0" cy="632.6" r="1.8"/><circle cx="175.0" cy="630.7" r="1.8"/><circle cx="177.4" cy="631.7" r="1.8"/><circle cx="178.8" cy="633.1" r="1.8"/><circle cx="180.7" cy="631.7" r="1.8"/><circle cx="151.4" cy="637.9" r="1.8"/><circle cx="161.5" cy="639.3" r="1.8"/><circle cx="172.6" cy="638.4" r="1.8"/><circle cx="170.6" cy="641.3" r="1.8"/><circle cx="171.1" cy="643.2" r="1.8"/><circle cx="175.0" cy="642.7" r="1.8"/><circle cx="177.8" cy="639.3" r="1.8"/><circle cx="180.7" cy="640.3" r="1.8"/><circle cx="183.6" cy="639.3" r="1.8"/><circle cx="196.9" cy="601.9" r="1.8"/><circle cx="198.4" cy="603.8" r="1.8"/><circle cx="199.8" cy="605.8" r="1.8"/><circle cx="216.1" cy="601.9" r="1.8"/><circle cx="218.0" cy="603.8" r="1.8"/><circle cx="220.0" cy="604.8" r="1.8"/><circle cx="219.0" cy="601.0" r="1.8"/><circle cx="224.8" cy="601.0" r="1.8"/><circle cx="236.3" cy="603.8" r="1.8"/><circle cx="238.2" cy="602.9" r="1.8"/><circle cx="235.3" cy="605.8" r="1.8"/><circle cx="198.8" cy="612.0" r="1.8"/><circle cx="201.7" cy="610.6" r="1.8"/><circle cx="207.0" cy="609.6" r="1.8"/><circle cx="207.5" cy="612.5" r="1.8"/><circle cx="210.4" cy="613.9" r="1.8"/><circle cx="213.2" cy="610.6" r="1.8"/><circle cx="217.1" cy="612.5" r="1.8"/><circle cx="218.5" cy="614.9" r="1.8"/><circle cx="220.0" cy="610.6" r="1.8"/><circle cx="225.7" cy="612.0" r="1.8"/><circle cx="228.1" cy="608.6" r="1.8"/><circle cx="231.5" cy="616.3" r="1.8"/><circle cx="237.2" cy="617.3" r="1.8"/><circle cx="240.1" cy="615.4" r="1.8"/><circle cx="243.0" cy="611.5" r="1.8"/><circle cx="236.3" cy="610.6" r="1.8"/><circle cx="239.1" cy="610.6" r="1.8"/><circle cx="243.0" cy="609.6" r="1.8"/><circle cx="208.9" cy="619.7" r="1.8"/><circle cx="196.0" cy="615.4" r="1.8"/><circle cx="265.9" cy="618.2" r="1.8"/><circle cx="267.8" cy="621.1" r="1.8"/><circle cx="269.8" cy="623.0" r="1.8"/><circle cx="270.7" cy="621.1" r="1.8"/><circle cx="266.9" cy="624.0" r="1.8"/><circle cx="274.5" cy="614.4" r="1.8"/><circle cx="276.5" cy="622.1" r="1.8"/><circle cx="273.6" cy="621.1" r="1.8"/><circle cx="279.3" cy="617.3" r="1.8"/><circle cx="282.2" cy="614.4" r="1.8"/><circle cx="285.1" cy="620.2" r="1.8"/><circle cx="287.0" cy="620.2" r="1.8"/><circle cx="285.1" cy="606.2" r="1.8"/><circle cx="288.0" cy="606.7" r="1.8"/><circle cx="287.0" cy="609.6" r="1.8"/><circle cx="282.2" cy="610.6" r="1.8"/><circle cx="284.1" cy="611.5" r="1.8"/><circle cx="279.3" cy="642.2" r="1.8"/><circle cx="281.3" cy="633.6" r="1.8"/><circle cx="285.1" cy="627.8" r="1.8"/><circle cx="284.1" cy="630.7" r="1.8"/><circle cx="287.0" cy="631.7" r="1.8"/><circle cx="258.5" cy="610.5" r="1.8"/><circle cx="277.9" cy="610.1" r="1.8"/><circle cx="260.8" cy="610.6" r="1.8"/><circle cx="247.6" cy="610.3" r="1.8"/><circle cx="265.8" cy="611.6" r="1.8"/><circle cx="243.9" cy="609.4" r="1.8"/><circle cx="243.7" cy="611.6" r="1.8"/><circle cx="268.4" cy="608.2" r="1.8"/><circle cx="280.3" cy="612.3" r="1.8"/><circle cx="266.8" cy="610.8" r="1.8"/><circle cx="246.5" cy="608.1" r="1.8"/><circle cx="261.7" cy="608.3" r="1.8"/><circle cx="247.8" cy="609.1" r="1.8"/><circle cx="241.2" cy="610.1" r="1.8"/><circle cx="258.1" cy="611.8" r="1.8"/><circle cx="261.3" cy="610.9" r="1.8"/><circle cx="260.5" cy="611.0" r="1.8"/><circle cx="258.8" cy="609.3" r="1.8"/><circle cx="280.9" cy="612.5" r="1.8"/><circle cx="274.4" cy="611.2" r="1.8"/><circle cx="252.9" cy="609.0" r="1.8"/><circle cx="251.9" cy="608.3" r="1.8"/><circle cx="271.4" cy="609.8" r="1.8"/><circle cx="274.7" cy="609.7" r="1.8"/><circle cx="279.3" cy="611.8" r="1.8"/><circle cx="260.6" cy="606.9" r="1.8"/><circle cx="263.7" cy="603.9" r="1.8"/><circle cx="253.2" cy="605.2" r="1.8"/><circle cx="257.4" cy="607.9" r="1.8"/><circle cx="264.0" cy="606.6" r="1.8"/><circle cx="261.9" cy="607.0" r="1.8"/><circle cx="255.3" cy="605.6" r="1.8"/><circle cx="255.6" cy="608.4" r="1.8"/><circle cx="253.9" cy="607.9" r="1.8"/><circle cx="254.2" cy="607.1" r="1.8"/><circle cx="258.4" cy="605.4" r="1.8"/><circle cx="268.9" cy="631.5" r="1.8"/><circle cx="275.3" cy="632.8" r="1.8"/><circle cx="267.8" cy="627.8" r="1.8"/><circle cx="267.2" cy="627.8" r="1.8"/><circle cx="276.0" cy="627.0" r="1.8"/><circle cx="273.0" cy="627.7" r="1.8"/><circle cx="269.4" cy="629.5" r="1.8"/><circle cx="277.6" cy="630.9" r="1.8"/><circle cx="265.2" cy="628.2" r="1.8"/><circle cx="267.2" cy="633.0" r="1.8"/><circle cx="277.1" cy="632.4" r="1.8"/><circle cx="259.0" cy="642.4" r="1.8"/><circle cx="269.4" cy="645.3" r="1.8"/><circle cx="262.2" cy="637.1" r="1.8"/><circle cx="270.9" cy="641.9" r="1.8"/><circle cx="262.8" cy="642.2" r="1.8"/><circle cx="264.5" cy="643.3" r="1.8"/><circle cx="259.2" cy="636.7" r="1.8"/><circle cx="274.1" cy="638.3" r="1.8"/><circle cx="261.9" cy="643.7" r="1.8"/><circle cx="269.0" cy="635.8" r="1.8"/><circle cx="267.5" cy="642.0" r="1.8"/><circle cx="260.1" cy="641.8" r="1.8"/><circle cx="259.3" cy="638.0" r="1.8"/><circle cx="258.6" cy="636.5" r="1.8"/><circle cx="275.6" cy="638.8" r="1.8"/><circle cx="275.8" cy="639.3" r="1.8"/><circle cx="268.5" cy="644.5" r="1.8"/><circle cx="270.1" cy="635.3" r="1.8"/><circle cx="268.2" cy="641.6" r="1.8"/><circle cx="260.4" cy="635.1" r="1.8"/><circle cx="273.6" cy="640.2" r="1.8"/><circle cx="260.7" cy="639.4" r="1.8"/><circle cx="261.1" cy="643.6" r="1.8"/><circle cx="266.5" cy="635.2" r="1.8"/><circle cx="272.5" cy="635.1" r="1.8"/><circle cx="262.3" cy="634.3" r="1.8"/><circle cx="271.1" cy="635.4" r="1.8"/><circle cx="267.0" cy="635.1" r="1.8"/><circle cx="266.1" cy="642.2" r="1.8"/><circle cx="267.2" cy="639.5" r="1.8"/><circle cx="266.2" cy="639.2" r="1.8"/><circle cx="268.3" cy="635.1" r="1.8"/><circle cx="266.0" cy="636.8" r="1.8"/><circle cx="273.4" cy="645.3" r="1.8"/><circle cx="258.3" cy="635.7" r="1.8"/><circle cx="270.4" cy="640.9" r="1.8"/><circle cx="278.4" cy="612.4" r="1.8"/><circle cx="274.5" cy="617.4" r="1.8"/><circle cx="278.8" cy="612.6" r="1.8"/><circle cx="277.0" cy="635.2" r="1.8"/><circle cx="276.6" cy="646.0" r="1.8"/><circle cx="266.1" cy="623.5" r="1.8"/><circle cx="274.0" cy="621.5" r="1.8"/><circle cx="266.5" cy="619.8" r="1.8"/><circle cx="276.6" cy="641.7" r="1.8"/><circle cx="275.6" cy="619.6" r="1.8"/><circle cx="277.7" cy="629.4" r="1.8"/><circle cx="265.9" cy="627.5" r="1.8"/><circle cx="269.1" cy="614.7" r="1.8"/><circle cx="271.6" cy="624.2" r="1.8"/><circle cx="271.7" cy="643.6" r="1.8"/><circle cx="273.0" cy="625.8" r="1.8"/><circle cx="168.7" cy="628.3" r="1.8"/><circle cx="170.0" cy="627.2" r="1.8"/><circle cx="169.8" cy="634.4" r="1.8"/><circle cx="166.2" cy="633.6" r="1.8"/><circle cx="160.2" cy="622.3" r="1.8"/><circle cx="168.0" cy="616.8" r="1.8"/><circle cx="177.8" cy="622.5" r="1.8"/><circle cx="178.9" cy="644.5" r="1.8"/><circle cx="166.1" cy="642.4" r="1.8"/><circle cx="179.4" cy="634.7" r="1.8"/><circle cx="160.7" cy="627.5" r="1.8"/><circle cx="175.0" cy="622.1" r="1.8"/><circle cx="165.4" cy="622.5" r="1.8"/><circle cx="196.4" cy="635.2" r="1.8"/><circle cx="208.9" cy="619.6" r="1.8"/><circle cx="221.6" cy="629.6" r="1.8"/><circle cx="220.8" cy="628.4" r="1.8"/><circle cx="203.2" cy="621.5" r="1.8"/><circle cx="238.2" cy="623.9" r="1.8"/><circle cx="236.8" cy="639.4" r="1.8"/><circle cx="252.5" cy="644.6" r="1.8"/><circle cx="200.7" cy="621.0" r="1.8"/><circle cx="241.8" cy="632.3" r="1.8"/><circle cx="198.1" cy="635.7" r="1.8"/><circle cx="253.1" cy="641.0" r="1.8"/><circle cx="199.2" cy="623.0" r="1.8"/><circle cx="199.6" cy="637.4" r="1.8"/><circle cx="225.6" cy="632.9" r="1.8"/><circle cx="224.7" cy="640.7" r="1.8"/><circle cx="230.7" cy="623.2" r="1.8"/><circle cx="190.9" cy="629.0" r="1.8"/><circle cx="257.2" cy="617.9" r="1.8"/><circle cx="237.6" cy="634.1" r="1.8"/><circle cx="194.6" cy="619.9" r="1.8"/><circle cx="237.8" cy="627.6" r="1.8"/><circle cx="214.9" cy="629.1" r="1.8"/><circle cx="189.8" cy="636.6" r="1.8"/><circle cx="229.7" cy="630.9" r="1.8"/><circle cx="209.4" cy="640.2" r="1.8"/><circle cx="249.1" cy="631.3" r="1.8"/><circle cx="234.7" cy="631.2" r="1.8"/><circle cx="198.2" cy="643.5" r="1.8"/><circle cx="233.1" cy="639.5" r="1.8"/><circle cx="248.6" cy="635.8" r="1.8"/><circle cx="224.7" cy="646.0" r="1.8"/><circle cx="192.4" cy="636.1" r="1.8"/><circle cx="254.0" cy="629.0" r="1.8"/><circle cx="248.5" cy="619.1" r="1.8"/><circle cx="215.6" cy="622.1" r="1.8"/><circle cx="214.1" cy="636.5" r="1.8"/><circle cx="193.3" cy="624.3" r="1.8"/><circle cx="250.9" cy="623.1" r="1.8"/><circle cx="191.8" cy="646.3" r="1.8"/><circle cx="194.8" cy="637.7" r="1.8"/><circle cx="235.0" cy="627.3" r="1.8"/><circle cx="223.7" cy="631.7" r="1.8"/><circle cx="244.5" cy="638.8" r="1.8"/><circle cx="216.1" cy="626.5" r="1.8"/><circle cx="231.6" cy="628.8" r="1.8"/><circle cx="215.6" cy="642.4" r="1.8"/><circle cx="255.7" cy="618.1" r="1.8"/><circle cx="195.6" cy="639.3" r="1.8"/><circle cx="249.3" cy="644.2" r="1.8"/><circle cx="243.7" cy="637.7" r="1.8"/><circle cx="257.8" cy="621.8" r="1.8"/><circle cx="187.8" cy="641.1" r="1.8"/><circle cx="238.8" cy="639.7" r="1.8"/><circle cx="192.2" cy="623.1" r="1.8"/><circle cx="208.4" cy="633.2" r="1.8"/><circle cx="214.0" cy="626.7" r="1.8"/><circle cx="223.6" cy="637.8" r="1.8"/><circle cx="185.2" cy="621.6" r="1.8"/><circle cx="203.9" cy="620.2" r="1.8"/><circle cx="236.9" cy="627.7" r="1.8"/><circle cx="190.3" cy="641.3" r="1.8"/><circle cx="250.0" cy="621.7" r="1.8"/><circle cx="249.5" cy="639.0" r="1.8"/><circle cx="239.6" cy="642.3" r="1.8"/><circle cx="254.2" cy="644.8" r="1.8"/><circle cx="194.8" cy="645.7" r="1.8"/><circle cx="189.2" cy="625.2" r="1.8"/><circle cx="225.7" cy="634.4" r="1.8"/><circle cx="224.9" cy="643.4" r="1.8"/><circle cx="245.0" cy="641.8" r="1.8"/><circle cx="237.0" cy="628.3" r="1.8"/><circle cx="258.2" cy="619.4" r="1.8"/><circle cx="214.1" cy="638.2" r="1.8"/><circle cx="240.0" cy="632.3" r="1.8"/><circle cx="204.5" cy="621.3" r="1.8"/><circle cx="193.0" cy="634.6" r="1.8"/><circle cx="240.3" cy="628.0" r="1.8"/><circle cx="182.9" cy="627.2" r="1.8"/><circle cx="257.3" cy="630.1" r="1.8"/><circle cx="222.5" cy="621.1" r="1.8"/><circle cx="231.2" cy="639.6" r="1.8"/><circle cx="223.0" cy="633.5" r="1.8"/><circle cx="205.5" cy="646.2" r="1.8"/><circle cx="205.0" cy="643.7" r="1.8"/><circle cx="252.9" cy="632.1" r="1.8"/><circle cx="200.9" cy="626.8" r="1.8"/><circle cx="249.4" cy="642.1" r="1.8"/><circle cx="183.9" cy="631.3" r="1.8"/><circle cx="238.3" cy="629.3" r="1.8"/><circle cx="198.6" cy="638.5" r="1.8"/><circle cx="208.0" cy="621.8" r="1.8"/><circle cx="206.0" cy="619.6" r="1.8"/><circle cx="250.6" cy="624.0" r="1.8"/><circle cx="225.7" cy="643.0" r="1.8"/><circle cx="260.0" cy="621.7" r="1.8"/><circle cx="260.8" cy="629.0" r="1.8"/><circle cx="254.1" cy="642.3" r="1.8"/><circle cx="194.0" cy="624.2" r="1.8"/><circle cx="216.8" cy="619.7" r="1.8"/><circle cx="257.7" cy="620.0" r="1.8"/><circle cx="193.9" cy="640.2" r="1.8"/><circle cx="198.1" cy="632.7" r="1.8"/><circle cx="191.8" cy="640.2" r="1.8"/><circle cx="245.8" cy="644.6" r="1.8"/><circle cx="186.0" cy="635.4" r="1.8"/><circle cx="241.1" cy="624.4" r="1.8"/><circle cx="238.0" cy="623.8" r="1.8"/><circle cx="229.4" cy="641.5" r="1.8"/><circle cx="249.2" cy="624.1" r="1.8"/><circle cx="202.7" cy="644.9" r="1.8"/><circle cx="200.7" cy="628.8" r="1.8"/><circle cx="215.8" cy="625.2" r="1.8"/><circle cx="219.6" cy="635.5" r="1.8"/><circle cx="251.1" cy="629.4" r="1.8"/><circle cx="200.4" cy="622.5" r="1.8"/><circle cx="206.7" cy="625.9" r="1.8"/><circle cx="257.1" cy="629.5" r="1.8"/><circle cx="197.3" cy="632.1" r="1.8"/><circle cx="238.6" cy="646.3" r="1.8"/><circle cx="200.4" cy="638.5" r="1.8"/><circle cx="260.3" cy="626.2" r="1.8"/><circle cx="245.5" cy="638.3" r="1.8"/><circle cx="249.6" cy="641.3" r="1.8"/><circle cx="187.2" cy="642.4" r="1.8"/><circle cx="239.4" cy="644.7" r="1.8"/><circle cx="255.3" cy="629.1" r="1.8"/><circle cx="251.8" cy="619.7" r="1.8"/><circle cx="248.1" cy="631.3" r="1.8"/><circle cx="228.5" cy="621.1" r="1.8"/><circle cx="247.2" cy="630.6" r="1.8"/><circle cx="199.9" cy="638.3" r="1.8"/><circle cx="229.2" cy="627.4" r="1.8"/><circle cx="247.6" cy="627.2" r="1.8"/><circle cx="237.1" cy="631.2" r="1.8"/><circle cx="211.5" cy="624.9" r="1.8"/><circle cx="229.8" cy="619.2" r="1.8"/><circle cx="195.6" cy="623.6" r="1.8"/><circle cx="240.0" cy="619.3" r="1.8"/><circle cx="244.5" cy="624.0" r="1.8"/><circle cx="259.0" cy="616.6" r="1.8"/><circle cx="251.4" cy="640.6" r="1.8"/><circle cx="249.5" cy="634.1" r="1.8"/><circle cx="205.9" cy="645.1" r="1.8"/><circle cx="199.7" cy="636.5" r="1.8"/><circle cx="215.5" cy="623.6" r="1.8"/><circle cx="246.2" cy="619.9" r="1.8"/><circle cx="188.6" cy="633.9" r="1.8"/><circle cx="194.8" cy="643.5" r="1.8"/><circle cx="192.4" cy="626.1" r="1.8"/><circle cx="225.0" cy="631.9" r="1.8"/><circle cx="250.1" cy="633.6" r="1.8"/><circle cx="260.1" cy="626.6" r="1.8"/><circle cx="209.3" cy="635.1" r="1.8"/><circle cx="255.4" cy="627.4" r="1.8"/><circle cx="185.4" cy="625.7" r="1.8"/><circle cx="198.3" cy="643.0" r="1.8"/><circle cx="208.4" cy="628.2" r="1.8"/><circle cx="188.9" cy="630.4" r="1.8"/><circle cx="242.5" cy="637.6" r="1.8"/><circle cx="248.3" cy="646.3" r="1.8"/><circle cx="190.6" cy="635.8" r="1.8"/><circle cx="208.8" cy="645.4" r="1.8"/><circle cx="218.9" cy="631.1" r="1.8"/><circle cx="254.2" cy="626.2" r="1.8"/><circle cx="200.6" cy="633.5" r="1.8"/><circle cx="254.0" cy="646.1" r="1.8"/><circle cx="203.0" cy="635.4" r="1.8"/><circle cx="207.7" cy="631.7" r="1.8"/><circle cx="245.5" cy="638.4" r="1.8"/><circle cx="233.8" cy="625.8" r="1.8"/><circle cx="250.5" cy="630.0" r="1.8"/><circle cx="235.9" cy="622.1" r="1.8"/><circle cx="196.6" cy="637.1" r="1.8"/><circle cx="206.1" cy="627.1" r="1.8"/><circle cx="240.1" cy="628.5" r="1.8"/><circle cx="222.9" cy="637.0" r="1.8"/><circle cx="185.4" cy="630.3" r="1.8"/><circle cx="262.4" cy="622.3" r="1.8"/><circle cx="212.5" cy="628.0" r="1.8"/><circle cx="199.3" cy="621.0" r="1.8"/><circle cx="208.7" cy="628.9" r="1.8"/><circle cx="213.5" cy="629.6" r="1.8"/><circle cx="201.9" cy="631.2" r="1.8"/><circle cx="244.4" cy="628.8" r="1.8"/><circle cx="211.0" cy="640.5" r="1.8"/><circle cx="232.8" cy="629.6" r="1.8"/><circle cx="206.9" cy="645.0" r="1.8"/><circle cx="191.0" cy="643.9" r="1.8"/><circle cx="206.6" cy="643.7" r="1.8"/><circle cx="185.2" cy="636.2" r="1.8"/><circle cx="220.7" cy="633.6" r="1.8"/><circle cx="188.6" cy="625.6" r="1.8"/><circle cx="211.3" cy="631.7" r="1.8"/><circle cx="240.4" cy="644.8" r="1.8"/><circle cx="196.5" cy="643.7" r="1.8"/><circle cx="226.5" cy="635.3" r="1.8"/><circle cx="229.9" cy="639.0" r="1.8"/><circle cx="195.2" cy="640.5" r="1.8"/><circle cx="195.8" cy="642.5" r="1.8"/><circle cx="251.3" cy="632.1" r="1.8"/><circle cx="221.5" cy="620.1" r="1.8"/><circle cx="188.3" cy="639.5" r="1.8"/><circle cx="245.8" cy="632.9" r="1.8"/><circle cx="232.6" cy="640.4" r="1.8"/><circle cx="230.3" cy="634.2" r="1.8"/><circle cx="238.3" cy="631.2" r="1.8"/><circle cx="204.8" cy="640.1" r="1.8"/><circle cx="219.4" cy="632.5" r="1.8"/><circle cx="260.1" cy="627.9" r="1.8"/><circle cx="254.6" cy="629.6" r="1.8"/><circle cx="236.0" cy="637.9" r="1.8"/><circle cx="223.3" cy="630.9" r="1.8"/><circle cx="252.3" cy="638.6" r="1.8"/><circle cx="231.7" cy="636.8" r="1.8"/><circle cx="202.7" cy="631.6" r="1.8"/><circle cx="250.1" cy="637.2" r="1.8"/><circle cx="257.7" cy="614.8" r="1.8"/><circle cx="195.2" cy="620.5" r="1.8"/><circle cx="208.8" cy="640.8" r="1.8"/><circle cx="250.1" cy="633.9" r="1.8"/><circle cx="249.4" cy="638.6" r="1.8"/><circle cx="252.7" cy="632.8" r="1.8"/><circle cx="256.5" cy="613.0" r="1.8"/><circle cx="235.1" cy="631.4" r="1.8"/><circle cx="224.4" cy="632.6" r="1.8"/><circle cx="251.1" cy="640.8" r="1.8"/><circle cx="203.3" cy="627.4" r="1.8"/><circle cx="215.4" cy="638.5" r="1.8"/><circle cx="209.3" cy="635.6" r="1.8"/><circle cx="191.4" cy="643.9" r="1.8"/><circle cx="236.0" cy="625.7" r="1.8"/><circle cx="223.3" cy="636.0" r="1.8"/><circle cx="233.3" cy="646.5" r="1.8"/><circle cx="191.1" cy="641.8" r="1.8"/><circle cx="244.4" cy="621.6" r="1.8"/><circle cx="248.3" cy="628.7" r="1.8"/><circle cx="250.0" cy="627.2" r="1.8"/><circle cx="217.3" cy="631.3" r="1.8"/><circle cx="246.1" cy="632.1" r="1.8"/><circle cx="234.7" cy="626.7" r="1.8"/><circle cx="197.2" cy="621.0" r="1.8"/><circle cx="247.9" cy="631.0" r="1.8"/><circle cx="210.3" cy="628.3" r="1.8"/><circle cx="215.0" cy="637.2" r="1.8"/><circle cx="241.6" cy="643.9" r="1.8"/><circle cx="221.0" cy="634.4" r="1.8"/><circle cx="197.3" cy="636.4" r="1.8"/><circle cx="256.9" cy="627.9" r="1.8"/><circle cx="219.2" cy="636.3" r="1.8"/><circle cx="190.9" cy="637.1" r="1.8"/><circle cx="201.2" cy="636.5" r="1.8"/><circle cx="212.3" cy="641.8" r="1.8"/><circle cx="253.5" cy="640.8" r="1.8"/><circle cx="225.6" cy="629.9" r="1.8"/><circle cx="214.8" cy="640.9" r="1.8"/><circle cx="188.6" cy="626.0" r="1.8"/><circle cx="234.2" cy="629.9" r="1.8"/><circle cx="216.6" cy="633.4" r="1.8"/><circle cx="195.8" cy="630.0" r="1.8"/><circle cx="185.9" cy="621.9" r="1.8"/><circle cx="184.6" cy="622.5" r="1.8"/><circle cx="184.8" cy="646.3" r="1.8"/><circle cx="258.7" cy="614.3" r="1.8"/><circle cx="192.4" cy="644.0" r="1.8"/><circle cx="206.0" cy="629.6" r="1.8"/><circle cx="221.7" cy="645.3" r="1.8"/><circle cx="232.9" cy="624.1" r="1.8"/><circle cx="245.6" cy="624.4" r="1.8"/><circle cx="231.3" cy="623.3" r="1.8"/><circle cx="217.3" cy="630.5" r="1.8"/><circle cx="187.3" cy="635.8" r="1.8"/><circle cx="250.9" cy="614.8" r="1.8"/><circle cx="198.8" cy="633.9" r="1.8"/><circle cx="205.7" cy="619.9" r="1.8"/><circle cx="189.0" cy="628.5" r="1.8"/><circle cx="253.1" cy="626.0" r="1.8"/><circle cx="202.6" cy="620.8" r="1.8"/><circle cx="213.3" cy="640.5" r="1.8"/><circle cx="253.7" cy="614.4" r="1.8"/><circle cx="235.4" cy="635.0" r="1.8"/><circle cx="221.1" cy="623.3" r="1.8"/><circle cx="253.2" cy="636.2" r="1.8"/><circle cx="212.8" cy="639.3" r="1.8"/><circle cx="203.9" cy="622.6" r="1.8"/><circle cx="227.6" cy="635.7" r="1.8"/><circle cx="259.6" cy="629.8" r="1.8"/><circle cx="198.9" cy="643.7" r="1.8"/><circle cx="250.0" cy="641.9" r="1.8"/><circle cx="219.3" cy="619.9" r="1.8"/><circle cx="240.9" cy="627.9" r="1.8"/><circle cx="206.6" cy="622.0" r="1.8"/><circle cx="240.4" cy="642.9" r="1.8"/><circle cx="258.4" cy="630.0" r="1.8"/><circle cx="204.8" cy="620.2" r="1.8"/><circle cx="244.7" cy="623.9" r="1.8"/><circle cx="249.6" cy="645.4" r="1.8"/><circle cx="238.1" cy="631.0" r="1.8"/><circle cx="231.6" cy="633.5" r="1.8"/><circle cx="225.4" cy="623.2" r="1.8"/><circle cx="186.7" cy="634.4" r="1.8"/><circle cx="186.8" cy="627.4" r="1.8"/><circle cx="212.1" cy="639.2" r="1.8"/><circle cx="237.1" cy="642.3" r="1.8"/><circle cx="230.9" cy="630.0" r="1.8"/><circle cx="201.5" cy="622.7" r="1.8"/><circle cx="215.2" cy="630.7" r="1.8"/><circle cx="219.8" cy="619.3" r="1.8"/><circle cx="202.6" cy="641.4" r="1.8"/><circle cx="231.8" cy="619.7" r="1.8"/><circle cx="205.8" cy="623.8" r="1.8"/><circle cx="188.5" cy="635.6" r="1.8"/><circle cx="223.3" cy="627.3" r="1.8"/><circle cx="245.9" cy="634.7" r="1.8"/><circle cx="236.0" cy="641.8" r="1.8"/><circle cx="252.5" cy="645.4" r="1.8"/><circle cx="252.0" cy="636.3" r="1.8"/><circle cx="216.6" cy="636.2" r="1.8"/><circle cx="223.9" cy="641.5" r="1.8"/><circle cx="237.2" cy="638.3" r="1.8"/><circle cx="242.2" cy="628.2" r="1.8"/><circle cx="221.6" cy="633.6" r="1.8"/><circle cx="244.7" cy="635.8" r="1.8"/><circle cx="195.3" cy="622.1" r="1.8"/><circle cx="192.6" cy="642.9" r="1.8"/><circle cx="240.6" cy="646.5" r="1.8"/><circle cx="184.1" cy="631.5" r="1.8"/><circle cx="210.3" cy="640.5" r="1.8"/><circle cx="238.9" cy="644.6" r="1.8"/><circle cx="243.8" cy="622.7" r="1.8"/><circle cx="216.9" cy="624.5" r="1.8"/><circle cx="221.2" cy="627.1" r="1.8"/><circle cx="241.6" cy="641.1" r="1.8"/><circle cx="214.5" cy="632.2" r="1.8"/><circle cx="254.4" cy="623.1" r="1.8"/><circle cx="255.8" cy="618.2" r="1.8"/><circle cx="207.7" cy="639.4" r="1.8"/><circle cx="219.5" cy="627.7" r="1.8"/><circle cx="220.2" cy="623.8" r="1.8"/><circle cx="184.5" cy="632.5" r="1.8"/><circle cx="193.9" cy="620.9" r="1.8"/><circle cx="231.5" cy="626.1" r="1.8"/><circle cx="200.1" cy="631.5" r="1.8"/><circle cx="243.9" cy="637.3" r="1.8"/><circle cx="249.2" cy="633.9" r="1.8"/><circle cx="218.0" cy="633.7" r="1.8"/><circle cx="203.3" cy="641.5" r="1.8"/><circle cx="198.6" cy="640.0" r="1.8"/><circle cx="248.3" cy="645.2" r="1.8"/><circle cx="237.9" cy="627.6" r="1.8"/><circle cx="212.1" cy="622.4" r="1.8"/><circle cx="256.9" cy="625.3" r="1.8"/><circle cx="221.0" cy="627.8" r="1.8"/><circle cx="203.2" cy="634.7" r="1.8"/><circle cx="257.4" cy="633.3" r="1.8"/><circle cx="242.1" cy="630.9" r="1.8"/><circle cx="213.5" cy="620.1" r="1.8"/><circle cx="233.9" cy="646.0" r="1.8"/><circle cx="187.0" cy="642.8" r="1.8"/><circle cx="186.3" cy="640.4" r="1.8"/><circle cx="251.4" cy="620.5" r="1.8"/><circle cx="216.5" cy="629.7" r="1.8"/><circle cx="191.0" cy="637.8" r="1.8"/><circle cx="216.7" cy="636.1" r="1.8"/><circle cx="238.1" cy="625.4" r="1.8"/><circle cx="217.7" cy="621.9" r="1.8"/><circle cx="242.4" cy="634.9" r="1.8"/><circle cx="198.9" cy="633.8" r="1.8"/><circle cx="206.9" cy="626.3" r="1.8"/><circle cx="225.0" cy="623.0" r="1.8"/><circle cx="182.6" cy="625.5" r="1.8"/><circle cx="208.0" cy="629.9" r="1.8"/><circle cx="190.8" cy="629.9" r="1.8"/><circle cx="187.8" cy="622.7" r="1.8"/><circle cx="209.3" cy="626.3" r="1.8"/><circle cx="233.2" cy="643.5" r="1.8"/><circle cx="227.9" cy="630.6" r="1.8"/><circle cx="222.9" cy="637.6" r="1.8"/><circle cx="218.8" cy="624.4" r="1.8"/><circle cx="228.7" cy="623.5" r="1.8"/><circle cx="243.7" cy="625.3" r="1.8"/><circle cx="214.2" cy="645.5" r="1.8"/><circle cx="218.4" cy="628.2" r="1.8"/><circle cx="199.4" cy="630.4" r="1.8"/><circle cx="185.9" cy="636.6" r="1.8"/><circle cx="253.0" cy="638.4" r="1.8"/><circle cx="220.8" cy="640.4" r="1.8"/><circle cx="214.6" cy="644.1" r="1.8"/><circle cx="233.3" cy="622.0" r="1.8"/><circle cx="209.2" cy="623.1" r="1.8"/><circle cx="245.5" cy="630.2" r="1.8"/><circle cx="255.6" cy="621.3" r="1.8"/><circle cx="199.3" cy="622.0" r="1.8"/><circle cx="247.2" cy="636.8" r="1.8"/><circle cx="200.7" cy="628.6" r="1.8"/><circle cx="218.6" cy="633.4" r="1.8"/><circle cx="194.1" cy="637.7" r="1.8"/><circle cx="203.4" cy="624.9" r="1.8"/><circle cx="187.4" cy="621.4" r="1.8"/><circle cx="241.3" cy="630.4" r="1.8"/><circle cx="184.4" cy="641.3" r="1.8"/><circle cx="234.7" cy="629.5" r="1.8"/><circle cx="223.4" cy="637.2" r="1.8"/><circle cx="203.9" cy="642.5" r="1.8"/><circle cx="185.6" cy="619.8" r="1.8"/><circle cx="212.3" cy="621.4" r="1.8"/><circle cx="199.5" cy="626.7" r="1.8"/><circle cx="229.8" cy="625.0" r="1.8"/><circle cx="239.1" cy="626.7" r="1.8"/><circle cx="201.0" cy="644.8" r="1.8"/><circle cx="240.9" cy="623.3" r="1.8"/><circle cx="208.3" cy="639.2" r="1.8"/><circle cx="240.0" cy="623.1" r="1.8"/><circle cx="198.6" cy="644.7" r="1.8"/><circle cx="238.5" cy="634.4" r="1.8"/><circle cx="247.7" cy="645.7" r="1.8"/><circle cx="222.1" cy="641.8" r="1.8"/><circle cx="199.5" cy="634.1" r="1.8"/><circle cx="194.5" cy="644.5" r="1.8"/><circle cx="238.8" cy="641.2" r="1.8"/><circle cx="223.5" cy="643.1" r="1.8"/><circle cx="221.3" cy="621.7" r="1.8"/><circle cx="183.8" cy="639.8" r="1.8"/><circle cx="224.4" cy="623.3" r="1.8"/><circle cx="227.9" cy="633.4" r="1.8"/><circle cx="221.3" cy="637.8" r="1.8"/><circle cx="229.5" cy="644.8" r="1.8"/><circle cx="222.8" cy="624.5" r="1.8"/><circle cx="210.6" cy="644.7" r="1.8"/><circle cx="231.4" cy="646.2" r="1.8"/><circle cx="212.3" cy="632.7" r="1.8"/><circle cx="214.7" cy="637.0" r="1.8"/><circle cx="226.1" cy="623.1" r="1.8"/><circle cx="224.6" cy="624.3" r="1.8"/><circle cx="250.6" cy="634.8" r="1.8"/><circle cx="214.5" cy="635.7" r="1.8"/><circle cx="189.6" cy="633.4" r="1.8"/><circle cx="193.8" cy="622.5" r="1.8"/><circle cx="220.4" cy="637.9" r="1.8"/><circle cx="222.9" cy="637.4" r="1.8"/><circle cx="250.0" cy="642.1" r="1.8"/><circle cx="187.0" cy="633.6" r="1.8"/><circle cx="214.3" cy="645.5" r="1.8"/><circle cx="204.5" cy="645.8" r="1.8"/><circle cx="195.5" cy="640.1" r="1.8"/><circle cx="250.2" cy="620.0" r="1.8"/><circle cx="206.9" cy="623.2" r="1.8"/><circle cx="229.6" cy="634.0" r="1.8"/><circle cx="187.7" cy="632.6" r="1.8"/><circle cx="208.0" cy="639.7" r="1.8"/><circle cx="241.4" cy="637.9" r="1.8"/><circle cx="210.5" cy="646.1" r="1.8"/><circle cx="224.1" cy="630.5" r="1.8"/><circle cx="260.8" cy="626.3" r="1.8"/><circle cx="190.8" cy="640.6" r="1.8"/><circle cx="232.7" cy="641.3" r="1.8"/><circle cx="226.6" cy="630.7" r="1.8"/><circle cx="240.0" cy="636.7" r="1.8"/><circle cx="216.6" cy="629.6" r="1.8"/><circle cx="229.0" cy="620.1" r="1.8"/><circle cx="207.1" cy="622.3" r="1.8"/><circle cx="225.5" cy="630.7" r="1.8"/><circle cx="211.4" cy="625.0" r="1.8"/><circle cx="185.7" cy="619.8" r="1.8"/><circle cx="198.2" cy="631.1" r="1.8"/><circle cx="257.5" cy="617.6" r="1.8"/><circle cx="209.7" cy="626.0" r="1.8"/><circle cx="229.8" cy="637.3" r="1.8"/><circle cx="195.0" cy="632.9" r="1.8"/><circle cx="188.5" cy="627.8" r="1.8"/><circle cx="216.7" cy="622.3" r="1.8"/><circle cx="215.4" cy="619.8" r="1.8"/><circle cx="252.0" cy="635.5" r="1.8"/><circle cx="229.7" cy="636.9" r="1.8"/><circle cx="206.0" cy="628.6" r="1.8"/><circle cx="262.6" cy="624.8" r="1.8"/><circle cx="240.5" cy="620.4" r="1.8"/><circle cx="254.2" cy="637.2" r="1.8"/><circle cx="222.3" cy="628.4" r="1.8"/><circle cx="235.0" cy="641.5" r="1.8"/><circle cx="249.1" cy="627.8" r="1.8"/><circle cx="215.6" cy="634.6" r="1.8"/><circle cx="219.2" cy="625.2" r="1.8"/><circle cx="224.1" cy="633.7" r="1.8"/><circle cx="198.7" cy="637.0" r="1.8"/><circle cx="240.6" cy="622.4" r="1.8"/><circle cx="195.9" cy="640.2" r="1.8"/><circle cx="187.8" cy="638.0" r="1.8"/><circle cx="256.1" cy="620.4" r="1.8"/><circle cx="259.4" cy="613.2" r="1.8"/><circle cx="260.6" cy="614.9" r="1.8"/><circle cx="221.8" cy="630.3" r="1.8"/></g>
<line x1="204.86" y1="659.9" x2="204.86" y2="352.8" stroke="#ff1a0a" stroke-width="2.05" stroke-dasharray="7.5 7.6"/>
<line x1="232.74" y1="659.9" x2="232.74" y2="352.8" stroke="#ff1a0a" stroke-width="2.05" stroke-dasharray="7.5 7.6"/>
<line x1="29.5" y1="464.57" x2="519.8" y2="464.57" stroke="#ff1a0a" stroke-width="2.05" stroke-dasharray="7.5 7.6"/>
<text x="42.9" y="43.6" class="lt">A.</text>
<text x="42.2" y="390.3" class="lt">B.</text>
<line x1="334.5" y1="384.2" x2="353.4" y2="434.6" stroke="#555" stroke-width="0.6"/>
<line x1="351.0" y1="410.9" x2="356.3" y2="442.4" stroke="#555" stroke-width="0.6"/>
<line x1="344.9" y1="424.1" x2="356.9" y2="454.3" stroke="#555" stroke-width="0.6"/>
<line x1="397.4" y1="366.3" x2="362.7" y2="434.6" stroke="#555" stroke-width="0.6"/>
<line x1="388.8" y1="384.5" x2="358.7" y2="434.6" stroke="#555" stroke-width="0.6"/>
<line x1="400.3" y1="421.2" x2="381.1" y2="434.6" stroke="#555" stroke-width="0.6"/>
<line x1="419.4" y1="428.8" x2="361.8" y2="447.4" stroke="#555" stroke-width="0.6"/>
<line x1="322.3" y1="407.9" x2="328.5" y2="442.4" stroke="#555" stroke-width="0.6"/>
<line x1="136.9" y1="403.8" x2="147.2" y2="434.8" stroke="#555" stroke-width="0.6"/>
<circle cx="353.4" cy="434.6" r="2.75" fill="#ff1a0a"/>
<circle cx="358.7" cy="434.6" r="2.75" fill="#ff1a0a"/>
<circle cx="362.7" cy="434.6" r="2.75" fill="#ff1a0a"/>
<circle cx="381.1" cy="434.6" r="2.75" fill="#ff1a0a"/>
<circle cx="356.3" cy="442.4" r="2.75" fill="#ff1a0a"/>
<circle cx="361.8" cy="447.4" r="2.75" fill="#ff1a0a"/>
<circle cx="356.9" cy="454.3" r="2.75" fill="#ff1a0a"/>
<circle cx="328.5" cy="442.4" r="2.75" fill="#ff1a0a"/>
<circle cx="147.2" cy="434.8" r="2.75" fill="#1020ff"/>
<text x="339.4" y="365.7" textLength="120.8" lengthAdjust="spacingAndGlyphs" class="an">beta-hydroxyisovaleroylcarnitine</text>
<text x="303.3" y="383.6" textLength="61.3" lengthAdjust="spacingAndGlyphs" class="an">picolinoylglycine</text>
<text x="389.3" y="386.9" textLength="70.8" lengthAdjust="spacingAndGlyphs" class="an">N-acetylkynurenine</text>
<text x="280.4" y="410.7" textLength="40.8" lengthAdjust="spacingAndGlyphs" class="an">quinolinate</text>
<text x="325.4" y="409.9" textLength="51.1" lengthAdjust="spacingAndGlyphs" class="an">tiglyl carnitine</text>
<text x="336.2" y="422.6" textLength="17.8" lengthAdjust="spacingAndGlyphs" class="an">urea</text>
<text x="367.6" y="419.6" textLength="110.6" lengthAdjust="spacingAndGlyphs" class="an">6-oxopiperidine-2-carboxylate</text>
<text x="420.5" y="431.1" textLength="53.0" lengthAdjust="spacingAndGlyphs" class="an">N-acetylvaline</text>
<text x="118.3" y="403" textLength="36.8" lengthAdjust="spacingAndGlyphs" class="ab">3-CMPFP</text>
</svg>
</body></html>
